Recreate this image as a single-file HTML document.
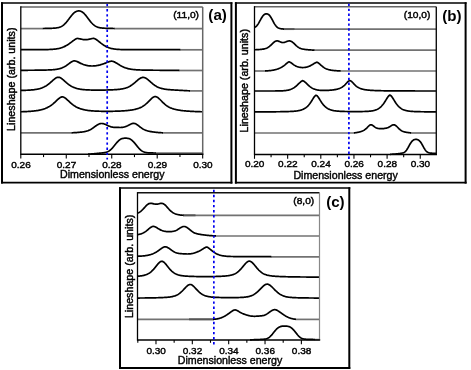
<!DOCTYPE html>
<html><head><meta charset="utf-8"><style>
html,body{margin:0;padding:0;background:#fff;}
svg{display:block;}
text{font-family:'Liberation Sans', Arial, Helvetica, sans-serif;fill:#000;}
</style></head><body>
<svg width="471" height="370" viewBox="0 0 471 370">
<rect width="471" height="370" fill="#fff"/>
<line x1="1" y1="3" x2="232.4" y2="3" stroke="#000" stroke-width="1.5"/>
<line x1="1" y1="182.7" x2="232.4" y2="182.7" stroke="#000" stroke-width="1.8"/>
<line x1="2" y1="2.25" x2="2" y2="183.6" stroke="#000" stroke-width="2"/>
<line x1="231.4" y1="2.25" x2="231.4" y2="183.6" stroke="#000" stroke-width="2"/>
<line x1="20.8" y1="28.60" x2="43.3" y2="28.60" stroke="#727272" stroke-width="1.7"/>
<line x1="114.2" y1="28.60" x2="202.7" y2="28.60" stroke="#727272" stroke-width="1.7"/>
<line x1="179.8" y1="49.80" x2="202.7" y2="49.80" stroke="#727272" stroke-width="1.7"/>
<line x1="178.8" y1="70.50" x2="202.7" y2="70.50" stroke="#727272" stroke-width="1.7"/>
<line x1="189.5" y1="90.90" x2="202.7" y2="90.90" stroke="#727272" stroke-width="1.7"/>
<line x1="20.8" y1="132.90" x2="72.2" y2="132.90" stroke="#727272" stroke-width="1.7"/>
<line x1="162.5" y1="132.90" x2="202.7" y2="132.90" stroke="#727272" stroke-width="1.7"/>
<line x1="155.5" y1="153.10" x2="202.7" y2="153.10" stroke="#727272" stroke-width="1.7"/>
<path d="M42.80 28.50 L43.30 28.49 L43.80 28.49 L44.30 28.48 L44.80 28.47 L45.30 28.46 L45.80 28.45 L46.30 28.44 L46.79 28.43 L47.29 28.42 L47.79 28.41 L48.29 28.39 L48.79 28.38 L49.29 28.36 L49.79 28.35 L50.29 28.33 L50.79 28.32 L51.29 28.30 L51.79 28.28 L52.29 28.25 L52.79 28.23 L53.29 28.20 L53.78 28.17 L54.28 28.14 L54.78 28.10 L55.28 28.05 L55.78 28.00 L56.28 27.94 L56.78 27.86 L57.28 27.78 L57.78 27.69 L58.28 27.58 L58.78 27.45 L59.28 27.31 L59.78 27.14 L60.28 26.95 L60.77 26.73 L61.27 26.49 L61.77 26.22 L62.27 25.92 L62.77 25.58 L63.27 25.22 L63.77 24.82 L64.27 24.38 L64.77 23.92 L65.27 23.41 L65.77 22.88 L66.27 22.32 L66.77 21.73 L67.27 21.12 L67.77 20.49 L68.26 19.84 L68.76 19.18 L69.26 18.52 L69.76 17.85 L70.26 17.19 L70.76 16.54 L71.26 15.90 L71.76 15.29 L72.26 14.70 L72.76 14.14 L73.26 13.62 L73.76 13.14 L74.26 12.70 L74.76 12.30 L75.25 11.96 L75.75 11.67 L76.25 11.42 L76.75 11.23 L77.25 11.09 L77.75 11.00 L78.25 10.95 L78.75 10.94 L79.25 10.96 L79.75 11.02 L80.25 11.12 L80.75 11.27 L81.25 11.47 L81.75 11.72 L82.25 12.02 L82.74 12.37 L83.24 12.78 L83.74 13.23 L84.24 13.72 L84.74 14.25 L85.24 14.81 L85.74 15.41 L86.24 16.03 L86.74 16.67 L87.24 17.32 L87.74 17.98 L88.24 18.65 L88.74 19.31 L89.24 19.97 L89.73 20.61 L90.23 21.24 L90.73 21.85 L91.23 22.43 L91.73 22.99 L92.23 23.51 L92.73 24.01 L93.23 24.47 L93.73 24.90 L94.23 25.29 L94.73 25.65 L95.23 25.98 L95.73 26.27 L96.23 26.54 L96.72 26.78 L97.22 26.99 L97.72 27.17 L98.22 27.34 L98.72 27.48 L99.22 27.60 L99.72 27.71 L100.22 27.80 L100.72 27.88 L101.22 27.95 L101.72 28.01 L102.22 28.06 L102.72 28.10 L103.22 28.14 L103.72 28.18 L104.21 28.21 L104.71 28.23 L105.21 28.26 L105.71 28.28 L106.21 28.30 L106.71 28.32 L107.21 28.34 L107.71 28.35 L108.21 28.37 L108.71 28.38 L109.21 28.39 L109.71 28.41 L110.21 28.42 L110.71 28.43 L111.20 28.44 L111.70 28.45 L112.20 28.46 L112.70 28.47 L113.20 28.48 L113.70 28.49 L114.20 28.49 L114.70 28.50" fill="none" stroke="#000" stroke-width="1.7" stroke-linejoin="round"/>
<path d="M20.80 49.65 L21.30 49.65 L21.80 49.65 L22.30 49.65 L22.80 49.65 L23.30 49.65 L23.80 49.65 L24.30 49.65 L24.80 49.65 L25.30 49.65 L25.80 49.65 L26.30 49.65 L26.80 49.65 L27.30 49.65 L27.80 49.65 L28.30 49.65 L28.80 49.65 L29.30 49.65 L29.80 49.65 L30.30 49.65 L30.80 49.65 L31.30 49.65 L31.80 49.65 L32.30 49.65 L32.80 49.65 L33.30 49.65 L33.80 49.65 L34.30 49.65 L34.80 49.65 L35.30 49.65 L35.80 49.65 L36.30 49.64 L36.80 49.64 L37.30 49.64 L37.80 49.64 L38.30 49.64 L38.80 49.64 L39.30 49.64 L39.80 49.64 L40.30 49.63 L40.80 49.63 L41.30 49.63 L41.80 49.63 L42.30 49.62 L42.80 49.62 L43.30 49.61 L43.80 49.61 L44.30 49.60 L44.80 49.60 L45.30 49.59 L45.80 49.58 L46.30 49.57 L46.80 49.56 L47.30 49.55 L47.80 49.54 L48.30 49.53 L48.80 49.51 L49.30 49.49 L49.80 49.47 L50.30 49.45 L50.80 49.43 L51.30 49.40 L51.80 49.37 L52.30 49.34 L52.80 49.30 L53.30 49.26 L53.80 49.21 L54.30 49.17 L54.80 49.11 L55.30 49.05 L55.80 48.99 L56.30 48.92 L56.80 48.84 L57.30 48.76 L57.80 48.67 L58.30 48.57 L58.80 48.46 L59.30 48.35 L59.80 48.22 L60.30 48.09 L60.80 47.95 L61.30 47.79 L61.80 47.63 L62.30 47.45 L62.80 47.26 L63.30 47.06 L63.80 46.85 L64.30 46.62 L64.80 46.38 L65.30 46.13 L65.80 45.87 L66.30 45.59 L66.80 45.30 L67.30 45.00 L67.80 44.68 L68.30 44.35 L68.80 44.02 L69.30 43.67 L69.80 43.31 L70.30 42.94 L70.80 42.57 L71.30 42.19 L71.80 41.81 L72.30 41.43 L72.80 41.05 L73.30 40.68 L73.80 40.31 L74.30 39.95 L74.80 39.61 L75.30 39.29 L75.80 38.99 L76.30 38.73 L76.80 38.53 L77.30 38.46 L77.80 38.48 L78.30 38.53 L78.80 38.61 L79.30 38.71 L79.80 38.82 L80.30 38.94 L80.80 39.06 L81.30 39.18 L81.80 39.29 L82.30 39.39 L82.80 39.49 L83.30 39.57 L83.80 39.63 L84.30 39.68 L84.80 39.71 L85.30 39.72 L85.80 39.71 L86.30 39.68 L86.80 39.64 L87.30 39.58 L87.80 39.50 L88.30 39.41 L88.80 39.31 L89.30 39.20 L89.80 39.08 L90.30 38.96 L90.80 38.84 L91.30 38.73 L91.80 38.62 L92.30 38.53 L92.80 38.47 L93.30 38.43 L93.80 38.44 L94.30 38.52 L94.80 38.71 L95.30 38.97 L95.80 39.26 L96.30 39.58 L96.80 39.93 L97.30 40.30 L97.80 40.68 L98.30 41.07 L98.80 41.46 L99.30 41.86 L99.80 42.26 L100.30 42.66 L100.80 43.05 L101.30 43.44 L101.80 43.81 L102.30 44.18 L102.80 44.54 L103.30 44.88 L103.80 45.21 L104.30 45.53 L104.80 45.83 L105.30 46.12 L105.80 46.39 L106.30 46.65 L106.80 46.89 L107.30 47.12 L107.80 47.33 L108.30 47.53 L108.80 47.72 L109.30 47.90 L109.80 48.06 L110.30 48.21 L110.80 48.34 L111.30 48.47 L111.80 48.59 L112.30 48.69 L112.80 48.79 L113.30 48.88 L113.80 48.96 L114.30 49.03 L114.80 49.10 L115.30 49.16 L115.80 49.22 L116.30 49.26 L116.80 49.31 L117.30 49.35 L117.80 49.38 L118.30 49.41 L118.80 49.44 L119.30 49.47 L119.80 49.49 L120.30 49.51 L120.80 49.53 L121.30 49.54 L121.80 49.56 L122.30 49.57 L122.80 49.58 L123.30 49.59 L123.80 49.60 L124.30 49.60 L124.80 49.61 L125.30 49.62 L125.80 49.62 L126.30 49.62 L126.80 49.63 L127.30 49.63 L127.80 49.63 L128.30 49.64 L128.80 49.64 L129.30 49.64 L129.80 49.64 L130.30 49.64 L130.80 49.64 L131.30 49.64 L131.80 49.65 L132.30 49.65 L132.80 49.65 L133.30 49.65 L133.80 49.65 L134.30 49.65 L134.80 49.65 L135.30 49.65 L135.80 49.65 L136.30 49.65 L136.80 49.65 L137.30 49.65 L137.80 49.65 L138.30 49.65 L138.80 49.65 L139.30 49.65 L139.80 49.65 L140.30 49.65 L140.80 49.65 L141.30 49.65 L141.80 49.65 L142.30 49.65 L142.80 49.65 L143.30 49.65 L143.80 49.65 L144.30 49.65 L144.80 49.65 L145.30 49.65 L145.80 49.65 L146.30 49.65 L146.80 49.65 L147.30 49.65 L147.80 49.65 L148.30 49.65 L148.80 49.65 L149.30 49.65 L149.80 49.65 L150.30 49.65 L150.80 49.65 L151.30 49.65 L151.80 49.65 L152.30 49.65 L152.80 49.65 L153.30 49.65 L153.80 49.65 L154.30 49.65 L154.80 49.65 L155.30 49.65 L155.80 49.65 L156.30 49.65 L156.80 49.65 L157.30 49.65 L157.80 49.65 L158.30 49.65 L158.80 49.65 L159.30 49.65 L159.80 49.65 L160.30 49.65 L160.80 49.65 L161.30 49.65 L161.80 49.65 L162.30 49.65 L162.80 49.65 L163.30 49.65 L163.80 49.65 L164.30 49.65 L164.80 49.65 L165.30 49.65 L165.80 49.65 L166.30 49.65 L166.80 49.65 L167.30 49.65 L167.80 49.65 L168.30 49.65 L168.80 49.65 L169.30 49.66 L169.80 49.66 L170.30 49.66 L170.80 49.66 L171.30 49.66 L171.80 49.67 L172.30 49.67 L172.80 49.67 L173.30 49.67 L173.80 49.68 L174.30 49.68 L174.80 49.68 L175.30 49.69 L175.80 49.69 L176.30 49.69 L176.80 49.69 L177.30 49.69 L177.80 49.70 L178.30 49.70 L178.80 49.70 L179.30 49.70 L179.80 49.70 L180.30 49.70" fill="none" stroke="#000" stroke-width="1.7" stroke-linejoin="round"/>
<path d="M20.80 70.31 L21.30 70.31 L21.80 70.31 L22.30 70.31 L22.80 70.31 L23.30 70.30 L23.80 70.30 L24.30 70.30 L24.80 70.29 L25.30 70.29 L25.80 70.29 L26.30 70.29 L26.80 70.28 L27.30 70.28 L27.80 70.28 L28.30 70.27 L28.80 70.27 L29.30 70.27 L29.80 70.26 L30.30 70.26 L30.80 70.26 L31.30 70.25 L31.80 70.25 L32.30 70.24 L32.80 70.24 L33.30 70.23 L33.80 70.23 L34.30 70.23 L34.80 70.22 L35.30 70.22 L35.80 70.21 L36.30 70.20 L36.80 70.20 L37.30 70.19 L37.80 70.19 L38.30 70.18 L38.80 70.17 L39.30 70.17 L39.80 70.16 L40.30 70.15 L40.80 70.15 L41.30 70.14 L41.80 70.13 L42.30 70.12 L42.80 70.11 L43.30 70.10 L43.80 70.09 L44.30 70.08 L44.80 70.07 L45.30 70.06 L45.80 70.04 L46.30 70.03 L46.80 70.02 L47.30 70.00 L47.80 69.98 L48.30 69.97 L48.80 69.95 L49.30 69.93 L49.80 69.91 L50.30 69.88 L50.80 69.86 L51.30 69.83 L51.80 69.80 L52.30 69.77 L52.80 69.73 L53.30 69.69 L53.80 69.65 L54.30 69.60 L54.80 69.55 L55.30 69.49 L55.80 69.43 L56.30 69.36 L56.80 69.28 L57.30 69.19 L57.80 69.10 L58.30 69.00 L58.80 68.89 L59.30 68.77 L59.80 68.63 L60.30 68.49 L60.80 68.33 L61.30 68.16 L61.80 67.98 L62.30 67.78 L62.80 67.56 L63.30 67.33 L63.80 67.09 L64.30 66.83 L64.80 66.55 L65.30 66.25 L65.80 65.94 L66.30 65.61 L66.80 65.27 L67.30 64.92 L67.80 64.56 L68.30 64.18 L68.80 63.81 L69.30 63.43 L69.80 63.05 L70.30 62.68 L70.80 62.33 L71.30 62.00 L71.80 61.70 L72.30 61.44 L72.80 61.21 L73.30 61.04 L73.80 60.93 L74.30 60.89 L74.80 60.90 L75.30 60.97 L75.80 61.09 L76.30 61.24 L76.80 61.43 L77.30 61.64 L77.80 61.87 L78.30 62.12 L78.80 62.37 L79.30 62.62 L79.80 62.88 L80.30 63.13 L80.80 63.37 L81.30 63.61 L81.80 63.83 L82.30 64.04 L82.80 64.25 L83.30 64.44 L83.80 64.62 L84.30 64.78 L84.80 64.94 L85.30 65.08 L85.80 65.21 L86.30 65.34 L86.80 65.45 L87.30 65.55 L87.80 65.64 L88.30 65.72 L88.80 65.79 L89.30 65.85 L89.80 65.90 L90.30 65.94 L90.80 65.97 L91.30 65.99 L91.80 66.00 L92.30 66.00 L92.80 65.99 L93.30 65.96 L93.80 65.93 L94.30 65.89 L94.80 65.84 L95.30 65.79 L95.80 65.72 L96.30 65.65 L96.80 65.57 L97.30 65.49 L97.80 65.40 L98.30 65.30 L98.80 65.19 L99.30 65.08 L99.80 64.96 L100.30 64.83 L100.80 64.69 L101.30 64.55 L101.80 64.40 L102.30 64.24 L102.80 64.07 L103.30 63.90 L103.80 63.72 L104.30 63.53 L104.80 63.34 L105.30 63.14 L105.80 62.93 L106.30 62.73 L106.80 62.52 L107.30 62.32 L107.80 62.12 L108.30 61.93 L108.80 61.75 L109.30 61.59 L109.80 61.45 L110.30 61.33 L110.80 61.25 L111.30 61.20 L111.80 61.19 L112.30 61.23 L112.80 61.33 L113.30 61.48 L113.80 61.66 L114.30 61.87 L114.80 62.11 L115.30 62.38 L115.80 62.66 L116.30 62.96 L116.80 63.27 L117.30 63.58 L117.80 63.90 L118.30 64.22 L118.80 64.53 L119.30 64.84 L119.80 65.14 L120.30 65.44 L120.80 65.72 L121.30 66.00 L121.80 66.26 L122.30 66.52 L122.80 66.76 L123.30 66.99 L123.80 67.21 L124.30 67.42 L124.80 67.61 L125.30 67.80 L125.80 67.97 L126.30 68.13 L126.80 68.29 L127.30 68.43 L127.80 68.56 L128.30 68.69 L128.80 68.80 L129.30 68.91 L129.80 69.01 L130.30 69.10 L130.80 69.19 L131.30 69.27 L131.80 69.34 L132.30 69.41 L132.80 69.47 L133.30 69.53 L133.80 69.58 L134.30 69.63 L134.80 69.68 L135.30 69.72 L135.80 69.75 L136.30 69.79 L136.80 69.82 L137.30 69.85 L137.80 69.88 L138.30 69.90 L138.80 69.93 L139.30 69.95 L139.80 69.97 L140.30 69.99 L140.80 70.00 L141.30 70.02 L141.80 70.04 L142.30 70.05 L142.80 70.06 L143.30 70.08 L143.80 70.09 L144.30 70.10 L144.80 70.11 L145.30 70.12 L145.80 70.13 L146.30 70.14 L146.80 70.14 L147.30 70.15 L147.80 70.16 L148.30 70.17 L148.80 70.17 L149.30 70.18 L149.80 70.19 L150.30 70.19 L150.80 70.20 L151.30 70.20 L151.80 70.21 L152.30 70.22 L152.80 70.22 L153.30 70.23 L153.80 70.23 L154.30 70.23 L154.80 70.24 L155.30 70.24 L155.80 70.25 L156.30 70.25 L156.80 70.26 L157.30 70.26 L157.80 70.26 L158.30 70.27 L158.80 70.27 L159.30 70.27 L159.80 70.28 L160.30 70.28 L160.80 70.28 L161.30 70.29 L161.80 70.29 L162.30 70.29 L162.80 70.29 L163.30 70.30 L163.80 70.30 L164.30 70.30 L164.80 70.30 L165.30 70.31 L165.80 70.31 L166.30 70.31 L166.80 70.31 L167.30 70.32 L167.80 70.32 L168.30 70.33 L168.80 70.33 L169.30 70.33 L169.80 70.34 L170.30 70.34 L170.80 70.34 L171.30 70.35 L171.80 70.35 L172.30 70.36 L172.80 70.36 L173.30 70.37 L173.80 70.37 L174.30 70.37 L174.80 70.38 L175.30 70.38 L175.80 70.38 L176.30 70.39 L176.80 70.39 L177.30 70.39 L177.80 70.39 L178.30 70.40 L178.80 70.40 L179.30 70.40" fill="none" stroke="#000" stroke-width="1.7" stroke-linejoin="round"/>
<path d="M20.80 90.45 L21.30 90.44 L21.80 90.42 L22.30 90.41 L22.80 90.40 L23.30 90.38 L23.80 90.36 L24.30 90.35 L24.80 90.33 L25.31 90.31 L25.81 90.29 L26.31 90.27 L26.81 90.25 L27.31 90.23 L27.81 90.20 L28.31 90.17 L28.81 90.15 L29.31 90.12 L29.81 90.08 L30.31 90.05 L30.81 90.01 L31.31 89.97 L31.81 89.93 L32.31 89.89 L32.81 89.84 L33.31 89.79 L33.82 89.73 L34.32 89.67 L34.82 89.60 L35.32 89.53 L35.82 89.45 L36.32 89.37 L36.82 89.28 L37.32 89.19 L37.82 89.08 L38.32 88.97 L38.82 88.85 L39.32 88.72 L39.82 88.59 L40.32 88.44 L40.82 88.28 L41.32 88.11 L41.82 87.93 L42.33 87.73 L42.83 87.52 L43.33 87.30 L43.83 87.07 L44.33 86.82 L44.83 86.55 L45.33 86.27 L45.83 85.98 L46.33 85.67 L46.83 85.34 L47.33 85.00 L47.83 84.64 L48.33 84.27 L48.83 83.88 L49.33 83.48 L49.83 83.06 L50.33 82.64 L50.84 82.20 L51.34 81.76 L51.84 81.31 L52.34 80.87 L52.84 80.42 L53.34 79.98 L53.84 79.55 L54.34 79.14 L54.84 78.75 L55.34 78.40 L55.84 78.07 L56.34 77.80 L56.84 77.57 L57.34 77.39 L57.84 77.28 L58.34 77.24 L58.84 77.28 L59.35 77.39 L59.85 77.56 L60.35 77.79 L60.85 78.07 L61.35 78.39 L61.85 78.75 L62.35 79.13 L62.85 79.54 L63.35 79.97 L63.85 80.40 L64.35 80.85 L64.85 81.29 L65.35 81.74 L65.85 82.17 L66.35 82.61 L66.85 83.03 L67.36 83.44 L67.86 83.84 L68.36 84.22 L68.86 84.59 L69.36 84.94 L69.86 85.28 L70.36 85.60 L70.86 85.91 L71.36 86.20 L71.86 86.48 L72.36 86.74 L72.86 86.98 L73.36 87.21 L73.86 87.43 L74.36 87.63 L74.86 87.82 L75.36 88.00 L75.87 88.17 L76.37 88.32 L76.87 88.46 L77.37 88.60 L77.87 88.72 L78.37 88.84 L78.87 88.94 L79.37 89.04 L79.87 89.13 L80.37 89.22 L80.87 89.30 L81.37 89.37 L81.87 89.43 L82.37 89.49 L82.87 89.55 L83.37 89.60 L83.87 89.65 L84.38 89.69 L84.88 89.73 L85.38 89.77 L85.88 89.80 L86.38 89.83 L86.88 89.86 L87.38 89.89 L87.88 89.91 L88.38 89.93 L88.88 89.95 L89.38 89.97 L89.88 89.99 L90.38 90.00 L90.88 90.02 L91.38 90.03 L91.88 90.04 L92.38 90.05 L92.89 90.06 L93.39 90.07 L93.89 90.08 L94.39 90.08 L94.89 90.09 L95.39 90.09 L95.89 90.10 L96.39 90.10 L96.89 90.10 L97.39 90.10 L97.89 90.10 L98.39 90.10 L98.89 90.10 L99.39 90.10 L99.89 90.10 L100.39 90.10 L100.89 90.09 L101.40 90.09 L101.90 90.08 L102.40 90.08 L102.90 90.07 L103.40 90.07 L103.90 90.06 L104.40 90.05 L104.90 90.04 L105.40 90.03 L105.90 90.02 L106.40 90.01 L106.90 90.00 L107.40 89.99 L107.90 89.97 L108.40 89.96 L108.90 89.94 L109.40 89.93 L109.91 89.91 L110.41 89.89 L110.91 89.87 L111.41 89.85 L111.91 89.83 L112.41 89.81 L112.91 89.78 L113.41 89.76 L113.91 89.73 L114.41 89.70 L114.91 89.67 L115.41 89.64 L115.91 89.60 L116.41 89.56 L116.91 89.53 L117.41 89.48 L117.91 89.44 L118.42 89.39 L118.92 89.34 L119.42 89.29 L119.92 89.23 L120.42 89.16 L120.92 89.09 L121.42 89.02 L121.92 88.94 L122.42 88.85 L122.92 88.75 L123.42 88.65 L123.92 88.54 L124.42 88.42 L124.92 88.28 L125.42 88.14 L125.92 87.98 L126.42 87.81 L126.93 87.63 L127.43 87.43 L127.93 87.22 L128.43 86.99 L128.93 86.75 L129.43 86.48 L129.93 86.20 L130.43 85.91 L130.93 85.59 L131.43 85.26 L131.93 84.92 L132.43 84.55 L132.93 84.17 L133.43 83.78 L133.93 83.37 L134.43 82.96 L134.93 82.53 L135.44 82.10 L135.94 81.66 L136.44 81.22 L136.94 80.78 L137.44 80.34 L137.94 79.92 L138.44 79.51 L138.94 79.13 L139.44 78.77 L139.94 78.44 L140.44 78.14 L140.94 77.90 L141.44 77.69 L141.94 77.54 L142.44 77.45 L142.94 77.40 L143.44 77.42 L143.95 77.48 L144.45 77.60 L144.95 77.77 L145.45 78.00 L145.95 78.27 L146.45 78.58 L146.95 78.92 L147.45 79.29 L147.95 79.69 L148.45 80.11 L148.95 80.54 L149.45 80.98 L149.95 81.42 L150.45 81.86 L150.95 82.30 L151.45 82.73 L151.96 83.16 L152.46 83.58 L152.96 83.98 L153.46 84.37 L153.96 84.74 L154.46 85.10 L154.96 85.45 L155.46 85.77 L155.96 86.08 L156.46 86.38 L156.96 86.65 L157.46 86.91 L157.96 87.15 L158.46 87.38 L158.96 87.59 L159.46 87.78 L159.96 87.96 L160.47 88.13 L160.97 88.28 L161.47 88.42 L161.97 88.56 L162.47 88.68 L162.97 88.79 L163.47 88.89 L163.97 88.99 L164.47 89.08 L164.97 89.16 L165.47 89.23 L165.97 89.30 L166.47 89.37 L166.97 89.43 L167.47 89.49 L167.97 89.54 L168.47 89.59 L168.98 89.64 L169.48 89.68 L169.98 89.72 L170.48 89.76 L170.98 89.80 L171.48 89.84 L171.98 89.87 L172.48 89.90 L172.98 89.93 L173.48 89.96 L173.98 89.99 L174.48 90.02 L174.98 90.05 L175.48 90.07 L175.98 90.09 L176.48 90.12 L176.98 90.14 L177.49 90.17 L177.99 90.20 L178.49 90.23 L178.99 90.25 L179.49 90.28 L179.99 90.31 L180.49 90.34 L180.99 90.37 L181.49 90.40 L181.99 90.44 L182.49 90.47 L182.99 90.50 L183.49 90.52 L183.99 90.55 L184.49 90.58 L184.99 90.61 L185.49 90.64 L186.00 90.66 L186.50 90.68 L187.00 90.71 L187.50 90.73 L188.00 90.75 L188.50 90.76 L189.00 90.78 L189.50 90.79 L190.00 90.80" fill="none" stroke="#000" stroke-width="1.7" stroke-linejoin="round"/>
<path d="M20.80 111.78 L21.30 111.76 L21.80 111.75 L22.30 111.73 L22.80 111.71 L23.30 111.69 L23.80 111.67 L24.30 111.65 L24.80 111.63 L25.30 111.61 L25.80 111.59 L26.30 111.56 L26.80 111.54 L27.30 111.51 L27.80 111.48 L28.30 111.45 L28.80 111.42 L29.30 111.39 L29.80 111.36 L30.29 111.32 L30.79 111.28 L31.29 111.24 L31.79 111.20 L32.29 111.16 L32.79 111.11 L33.29 111.06 L33.79 111.01 L34.29 110.96 L34.79 110.90 L35.29 110.84 L35.79 110.77 L36.29 110.70 L36.79 110.63 L37.29 110.56 L37.79 110.47 L38.29 110.39 L38.79 110.30 L39.29 110.20 L39.79 110.10 L40.29 109.99 L40.79 109.87 L41.29 109.75 L41.79 109.62 L42.29 109.49 L42.79 109.34 L43.29 109.19 L43.79 109.03 L44.29 108.86 L44.79 108.68 L45.29 108.49 L45.79 108.28 L46.29 108.07 L46.79 107.85 L47.29 107.61 L47.79 107.36 L48.28 107.09 L48.78 106.81 L49.28 106.52 L49.78 106.21 L50.28 105.89 L50.78 105.55 L51.28 105.20 L51.78 104.83 L52.28 104.44 L52.78 104.04 L53.28 103.62 L53.78 103.19 L54.28 102.75 L54.78 102.29 L55.28 101.83 L55.78 101.35 L56.28 100.88 L56.78 100.40 L57.28 99.93 L57.78 99.47 L58.28 99.02 L58.78 98.60 L59.28 98.21 L59.78 97.85 L60.28 97.53 L60.78 97.27 L61.28 97.06 L61.78 96.92 L62.28 96.85 L62.78 96.89 L63.28 97.01 L63.78 97.20 L64.28 97.45 L64.78 97.75 L65.28 98.10 L65.78 98.48 L66.27 98.90 L66.77 99.34 L67.27 99.79 L67.77 100.26 L68.27 100.73 L68.77 101.20 L69.27 101.67 L69.77 102.13 L70.27 102.59 L70.77 103.03 L71.27 103.46 L71.77 103.88 L72.27 104.28 L72.77 104.67 L73.27 105.04 L73.77 105.39 L74.27 105.73 L74.77 106.05 L75.27 106.36 L75.77 106.65 L76.27 106.93 L76.77 107.19 L77.27 107.44 L77.77 107.68 L78.27 107.90 L78.77 108.11 L79.27 108.31 L79.77 108.50 L80.27 108.68 L80.77 108.85 L81.27 109.01 L81.77 109.16 L82.27 109.30 L82.77 109.43 L83.27 109.56 L83.77 109.68 L84.27 109.79 L84.76 109.89 L85.26 109.99 L85.76 110.08 L86.26 110.17 L86.76 110.25 L87.26 110.33 L87.76 110.40 L88.26 110.47 L88.76 110.54 L89.26 110.59 L89.76 110.65 L90.26 110.70 L90.76 110.75 L91.26 110.80 L91.76 110.84 L92.26 110.88 L92.76 110.92 L93.26 110.96 L93.76 110.99 L94.26 111.02 L94.76 111.05 L95.26 111.08 L95.76 111.10 L96.26 111.13 L96.76 111.15 L97.26 111.17 L97.76 111.19 L98.26 111.21 L98.76 111.22 L99.26 111.24 L99.76 111.25 L100.26 111.26 L100.76 111.27 L101.26 111.28 L101.76 111.29 L102.26 111.30 L102.75 111.31 L103.25 111.31 L103.75 111.32 L104.25 111.32 L104.75 111.33 L105.25 111.33 L105.75 111.33 L106.25 111.33 L106.75 111.34 L107.25 111.33 L107.75 111.33 L108.25 111.33 L108.75 111.33 L109.25 111.33 L109.75 111.32 L110.25 111.32 L110.75 111.31 L111.25 111.30 L111.75 111.30 L112.25 111.29 L112.75 111.28 L113.25 111.27 L113.75 111.26 L114.25 111.25 L114.75 111.24 L115.25 111.22 L115.75 111.21 L116.25 111.20 L116.75 111.18 L117.25 111.16 L117.75 111.15 L118.25 111.13 L118.75 111.11 L119.25 111.09 L119.75 111.06 L120.25 111.04 L120.75 111.02 L121.24 110.99 L121.74 110.96 L122.24 110.93 L122.74 110.90 L123.24 110.87 L123.74 110.84 L124.24 110.80 L124.74 110.76 L125.24 110.73 L125.74 110.68 L126.24 110.64 L126.74 110.60 L127.24 110.55 L127.74 110.50 L128.24 110.44 L128.74 110.39 L129.24 110.33 L129.74 110.27 L130.24 110.20 L130.74 110.13 L131.24 110.06 L131.74 109.98 L132.24 109.90 L132.74 109.82 L133.24 109.72 L133.74 109.63 L134.24 109.52 L134.74 109.42 L135.24 109.30 L135.74 109.18 L136.24 109.05 L136.74 108.91 L137.24 108.76 L137.74 108.60 L138.24 108.43 L138.74 108.25 L139.23 108.06 L139.73 107.86 L140.23 107.64 L140.73 107.41 L141.23 107.16 L141.73 106.90 L142.23 106.62 L142.73 106.32 L143.23 106.01 L143.73 105.68 L144.23 105.32 L144.73 104.95 L145.23 104.56 L145.73 104.15 L146.23 103.72 L146.73 103.27 L147.23 102.80 L147.73 102.32 L148.23 101.83 L148.73 101.32 L149.23 100.81 L149.73 100.29 L150.23 99.79 L150.73 99.29 L151.23 98.81 L151.73 98.35 L152.23 97.93 L152.73 97.56 L153.23 97.24 L153.73 96.98 L154.23 96.78 L154.73 96.66 L155.23 96.62 L155.73 96.66 L156.23 96.77 L156.73 96.95 L157.22 97.20 L157.72 97.52 L158.22 97.89 L158.72 98.30 L159.22 98.76 L159.72 99.24 L160.22 99.74 L160.72 100.25 L161.22 100.76 L161.72 101.28 L162.22 101.79 L162.72 102.29 L163.22 102.77 L163.72 103.25 L164.22 103.70 L164.72 104.14 L165.22 104.55 L165.72 104.95 L166.22 105.33 L166.72 105.69 L167.22 106.03 L167.72 106.35 L168.22 106.65 L168.72 106.93 L169.22 107.20 L169.72 107.45 L170.22 107.69 L170.72 107.91 L171.22 108.12 L171.72 108.32 L172.22 108.50 L172.72 108.68 L173.22 108.84 L173.72 108.99 L174.22 109.14 L174.72 109.27 L175.22 109.40 L175.71 109.52 L176.21 109.63 L176.71 109.74 L177.21 109.84 L177.71 109.94 L178.21 110.03 L178.71 110.11 L179.21 110.19 L179.71 110.27 L180.21 110.35 L180.71 110.42 L181.21 110.48 L181.71 110.55 L182.21 110.61 L182.71 110.66 L183.21 110.72 L183.71 110.77 L184.21 110.82 L184.71 110.87 L185.21 110.92 L185.71 110.96 L186.21 111.00 L186.71 111.04 L187.21 111.08 L187.71 111.12 L188.21 111.16 L188.71 111.19 L189.21 111.22 L189.71 111.26 L190.21 111.29 L190.71 111.32 L191.21 111.34 L191.71 111.37 L192.21 111.40 L192.71 111.42 L193.21 111.45 L193.70 111.47 L194.20 111.49 L194.70 111.52 L195.20 111.54 L195.70 111.56 L196.20 111.58 L196.70 111.60 L197.20 111.62 L197.70 111.63 L198.20 111.65 L198.70 111.67 L199.20 111.69 L199.70 111.70 L200.20 111.72 L200.70 111.73 L201.20 111.75 L201.70 111.76 L202.20 111.77 L202.70 111.79" fill="none" stroke="#000" stroke-width="1.7" stroke-linejoin="round"/>
<path d="M71.70 132.80 L72.20 132.78 L72.70 132.76 L73.20 132.74 L73.70 132.72 L74.19 132.69 L74.69 132.66 L75.19 132.63 L75.69 132.60 L76.19 132.56 L76.69 132.53 L77.19 132.49 L77.69 132.45 L78.19 132.41 L78.68 132.36 L79.18 132.31 L79.68 132.27 L80.18 132.21 L80.68 132.16 L81.18 132.10 L81.68 132.04 L82.18 131.98 L82.68 131.91 L83.17 131.83 L83.67 131.75 L84.17 131.67 L84.67 131.57 L85.17 131.47 L85.67 131.36 L86.17 131.24 L86.67 131.10 L87.17 130.95 L87.67 130.79 L88.16 130.61 L88.66 130.41 L89.16 130.20 L89.66 129.96 L90.16 129.71 L90.66 129.44 L91.16 129.16 L91.66 128.85 L92.16 128.54 L92.65 128.21 L93.15 127.86 L93.65 127.51 L94.15 127.15 L94.65 126.79 L95.15 126.42 L95.65 126.06 L96.15 125.71 L96.65 125.36 L97.14 125.03 L97.64 124.73 L98.14 124.44 L98.64 124.19 L99.14 123.97 L99.64 123.80 L100.14 123.66 L100.64 123.56 L101.14 123.50 L101.63 123.48 L102.13 123.50 L102.63 123.56 L103.13 123.65 L103.63 123.78 L104.13 123.94 L104.63 124.12 L105.13 124.33 L105.63 124.55 L106.12 124.77 L106.62 125.01 L107.12 125.24 L107.62 125.47 L108.12 125.70 L108.62 125.92 L109.12 126.13 L109.62 126.32 L110.12 126.50 L110.61 126.67 L111.11 126.82 L111.61 126.95 L112.11 127.06 L112.61 127.15 L113.11 127.23 L113.61 127.29 L114.11 127.33 L114.61 127.36 L115.10 127.38 L115.60 127.38 L116.10 127.37 L116.60 127.36 L117.10 127.34 L117.60 127.37 L118.10 127.41 L118.60 127.44 L119.10 127.47 L119.60 127.49 L120.09 127.49 L120.59 127.49 L121.09 127.47 L121.59 127.44 L122.09 127.39 L122.59 127.33 L123.09 127.25 L123.59 127.15 L124.09 127.03 L124.58 126.90 L125.08 126.75 L125.58 126.58 L126.08 126.39 L126.58 126.19 L127.08 125.96 L127.58 125.73 L128.08 125.48 L128.58 125.22 L129.07 124.96 L129.57 124.69 L130.07 124.43 L130.57 124.18 L131.07 123.95 L131.57 123.75 L132.07 123.58 L132.57 123.45 L133.07 123.38 L133.56 123.35 L134.06 123.39 L134.56 123.48 L135.06 123.63 L135.56 123.83 L136.06 124.08 L136.56 124.37 L137.06 124.69 L137.56 125.05 L138.05 125.42 L138.55 125.80 L139.05 126.19 L139.55 126.57 L140.05 126.95 L140.55 127.32 L141.05 127.68 L141.55 128.03 L142.05 128.36 L142.54 128.67 L143.04 128.97 L143.54 129.25 L144.04 129.51 L144.54 129.75 L145.04 129.97 L145.54 130.18 L146.04 130.38 L146.54 130.55 L147.03 130.72 L147.53 130.87 L148.03 131.00 L148.53 131.13 L149.03 131.24 L149.53 131.35 L150.03 131.45 L150.53 131.54 L151.03 131.63 L151.53 131.71 L152.02 131.79 L152.52 131.87 L153.02 131.94 L153.52 132.00 L154.02 132.07 L154.52 132.13 L155.02 132.19 L155.52 132.24 L156.02 132.30 L156.51 132.35 L157.01 132.40 L157.51 132.44 L158.01 132.49 L158.51 132.53 L159.01 132.57 L159.51 132.61 L160.01 132.64 L160.51 132.68 L161.00 132.71 L161.50 132.73 L162.00 132.76 L162.50 132.78 L163.00 132.80" fill="none" stroke="#000" stroke-width="1.7" stroke-linejoin="round"/>
<path d="M88.00 154.10 L88.50 154.10 L89.00 154.09 L89.50 154.07 L90.00 154.05 L90.50 154.03 L91.00 154.00 L91.50 153.97 L92.00 153.94 L92.50 153.90 L93.00 153.86 L93.50 153.81 L94.00 153.77 L94.50 153.72 L95.00 153.67 L95.50 153.62 L96.00 153.57 L96.50 153.51 L97.00 153.46 L97.50 153.41 L98.00 153.35 L98.50 153.30 L99.00 153.25 L99.50 153.19 L100.00 153.14 L100.50 153.09 L101.00 153.03 L101.50 152.98 L102.00 152.92 L102.50 152.86 L103.00 152.80 L103.50 152.74 L104.00 152.67 L104.50 152.59 L105.00 152.49 L105.50 152.39 L106.00 152.27 L106.50 152.13 L107.00 151.97 L107.50 151.77 L108.00 151.55 L108.50 151.28 L109.00 150.99 L109.50 150.65 L110.00 150.28 L110.50 149.86 L111.00 149.41 L111.50 148.92 L112.00 148.40 L112.50 147.85 L113.00 147.27 L113.50 146.67 L114.00 146.05 L114.50 145.43 L115.00 144.80 L115.50 144.17 L116.00 143.56 L116.50 142.96 L117.00 142.38 L117.50 141.83 L118.00 141.31 L118.50 140.83 L119.00 140.39 L119.50 139.99 L120.00 139.63 L120.50 139.32 L121.00 139.05 L121.50 138.82 L122.00 138.64 L122.50 138.49 L123.00 138.37 L123.50 138.29 L124.00 138.24 L124.50 138.21 L125.00 138.19 L125.50 138.19 L126.00 138.19 L126.50 138.20 L127.00 138.23 L127.50 138.29 L128.00 138.37 L128.50 138.48 L129.00 138.62 L129.50 138.81 L130.00 139.03 L130.50 139.30 L131.00 139.61 L131.50 139.96 L132.00 140.36 L132.50 140.80 L133.00 141.27 L133.50 141.79 L134.00 142.34 L134.50 142.91 L135.00 143.51 L135.50 144.12 L136.00 144.75 L136.50 145.38 L137.00 146.00 L137.50 146.62 L138.00 147.22 L138.50 147.80 L139.00 148.36 L139.50 148.88 L140.00 149.38 L140.50 149.83 L141.00 150.25 L141.50 150.64 L142.00 150.98 L142.50 151.28 L143.00 151.55 L143.50 151.79 L144.00 151.99 L144.50 152.16 L145.00 152.31 L145.50 152.43 L146.00 152.53 L146.50 152.62 L147.00 152.69 L147.50 152.75 L148.00 152.79 L148.50 152.83 L149.00 152.86 L149.50 152.88 L150.00 152.90 L150.50 152.92 L151.00 152.94 L151.50 152.95 L152.00 152.96 L152.50 152.97 L153.00 152.97 L153.50 152.98 L154.00 152.99 L154.50 152.99 L155.00 152.99 L155.50 153.00 L156.00 153.00" fill="none" stroke="#000" stroke-width="1.7" stroke-linejoin="round"/>
<line x1="20.8" y1="7" x2="202.7" y2="7" stroke="#666" stroke-width="1.5"/>
<line x1="202.7" y1="7" x2="202.7" y2="154.3" stroke="#666" stroke-width="1.5"/>
<line x1="20.8" y1="6.3" x2="20.8" y2="155.0" stroke="#000" stroke-width="1.3"/>
<line x1="20.8" y1="154.3" x2="203.39999999999998" y2="154.3" stroke="#000" stroke-width="1.5"/>
<line x1="20.80" y1="154.3" x2="20.80" y2="158.60000000000002" stroke="#000" stroke-width="1.1"/>
<text transform="translate(21.00 167.70) scale(1.1 1)" text-anchor="middle" font-size="9.1" stroke="#000" stroke-width="0.4">0.26</text>
<line x1="43.54" y1="154.3" x2="43.54" y2="157.10000000000002" stroke="#000" stroke-width="1.1"/>
<line x1="66.27" y1="154.3" x2="66.27" y2="158.60000000000002" stroke="#000" stroke-width="1.1"/>
<text transform="translate(66.47 167.70) scale(1.1 1)" text-anchor="middle" font-size="9.1" stroke="#000" stroke-width="0.4">0.27</text>
<line x1="89.01" y1="154.3" x2="89.01" y2="157.10000000000002" stroke="#000" stroke-width="1.1"/>
<line x1="111.74" y1="154.3" x2="111.74" y2="158.60000000000002" stroke="#000" stroke-width="1.1"/>
<text transform="translate(111.94 167.70) scale(1.1 1)" text-anchor="middle" font-size="9.1" stroke="#000" stroke-width="0.4">0.28</text>
<line x1="134.48" y1="154.3" x2="134.48" y2="157.10000000000002" stroke="#000" stroke-width="1.1"/>
<line x1="157.21" y1="154.3" x2="157.21" y2="158.60000000000002" stroke="#000" stroke-width="1.1"/>
<text transform="translate(157.41 167.70) scale(1.1 1)" text-anchor="middle" font-size="9.1" stroke="#000" stroke-width="0.4">0.29</text>
<line x1="179.95" y1="154.3" x2="179.95" y2="157.10000000000002" stroke="#000" stroke-width="1.1"/>
<line x1="202.68" y1="154.3" x2="202.68" y2="158.60000000000002" stroke="#000" stroke-width="1.1"/>
<text transform="translate(202.88 167.70) scale(1.1 1)" text-anchor="middle" font-size="9.1" stroke="#000" stroke-width="0.4">0.30</text>
<line x1="107.2" y1="3.9" x2="107.2" y2="159.6" stroke="#0000f0" stroke-width="1.7" stroke-dasharray="2.4 2.73"/>
<text transform="translate(112.30 178.30) scale(1.013 1)" text-anchor="middle" font-size="10.5" stroke="#000" stroke-width="0.4">Dimensionless energy</text>
<text transform="translate(14.80 79.20) rotate(-90) scale(1 1.0)" text-anchor="middle" font-size="10.7" stroke="#000" stroke-width="0.45">Lineshape (arb. units)</text>
<text transform="translate(199.00 17.60) scale(1.17 1)" text-anchor="end" font-size="8.7" stroke="#000" stroke-width="0.4">(11,0)</text>
<text transform="translate(217.60 19.80) scale(1.08 1)" text-anchor="middle" font-size="14" font-weight="bold">(a)</text>
<line x1="234.9" y1="3" x2="466.6" y2="3" stroke="#000" stroke-width="1.5"/>
<line x1="234.9" y1="182.7" x2="466.6" y2="182.7" stroke="#000" stroke-width="1.8"/>
<line x1="235.9" y1="2.25" x2="235.9" y2="183.6" stroke="#000" stroke-width="2"/>
<line x1="465.6" y1="2.25" x2="465.6" y2="183.6" stroke="#000" stroke-width="2"/>
<line x1="283.5" y1="29.20" x2="436.3" y2="29.20" stroke="#727272" stroke-width="1.7"/>
<line x1="283.5" y1="29.10" x2="294.5" y2="29.10" stroke="#555" stroke-width="1.9"/>
<line x1="313.9" y1="50.20" x2="436.3" y2="50.20" stroke="#727272" stroke-width="1.7"/>
<line x1="254.5" y1="71.00" x2="265.5" y2="71.00" stroke="#727272" stroke-width="1.7"/>
<line x1="340.1" y1="71.00" x2="436.3" y2="71.00" stroke="#727272" stroke-width="1.7"/>
<line x1="254.5" y1="133.00" x2="354.4" y2="133.00" stroke="#727272" stroke-width="1.7"/>
<line x1="410.6" y1="133.00" x2="436.3" y2="133.00" stroke="#727272" stroke-width="1.7"/>
<path d="M254.50 27.44 L255.00 27.20 L255.50 26.89 L256.00 26.52 L256.50 26.06 L257.00 25.51 L257.50 24.88 L258.00 24.17 L258.50 23.38 L259.00 22.53 L259.50 21.63 L260.00 20.71 L260.50 19.78 L261.00 18.87 L261.50 18.00 L262.00 17.19 L262.50 16.45 L263.00 15.79 L263.50 15.23 L264.00 14.76 L264.50 14.39 L265.00 14.12 L265.50 13.94 L266.00 13.85 L266.50 13.82 L267.00 13.87 L267.50 13.99 L268.00 14.20 L268.50 14.50 L269.00 14.91 L269.50 15.41 L270.00 16.01 L270.50 16.69 L271.00 17.47 L271.50 18.32 L272.00 19.22 L272.50 20.16 L273.00 21.11 L273.50 22.05 L274.00 22.97 L274.50 23.83 L275.00 24.63 L275.50 25.36 L276.00 26.00 L276.50 26.55 L277.00 27.02 L277.50 27.41 L278.00 27.73 L278.50 27.99 L279.00 28.21 L279.50 28.38 L280.00 28.52 L280.50 28.64 L281.00 28.74 L281.50 28.83 L282.00 28.90 L282.50 28.96 L283.00 29.02 L283.50 29.06 L284.00 29.10" fill="none" stroke="#000" stroke-width="1.7" stroke-linejoin="round"/>
<path d="M254.50 49.77 L255.00 49.75 L255.50 49.74 L256.00 49.71 L256.50 49.69 L257.00 49.67 L257.50 49.64 L257.99 49.61 L258.49 49.59 L258.99 49.55 L259.49 49.52 L259.99 49.48 L260.49 49.44 L260.99 49.39 L261.49 49.34 L261.99 49.28 L262.49 49.21 L262.99 49.14 L263.49 49.05 L263.98 48.95 L264.48 48.84 L264.98 48.70 L265.48 48.55 L265.98 48.37 L266.48 48.17 L266.98 47.94 L267.48 47.69 L267.98 47.40 L268.48 47.08 L268.98 46.73 L269.48 46.35 L269.97 45.94 L270.47 45.50 L270.97 45.05 L271.47 44.58 L271.97 44.10 L272.47 43.61 L272.97 43.14 L273.47 42.68 L273.97 42.25 L274.47 41.87 L274.97 41.54 L275.46 41.28 L275.96 41.08 L276.46 40.97 L276.96 40.92 L277.46 40.94 L277.96 41.03 L278.46 41.17 L278.96 41.35 L279.46 41.56 L279.96 41.77 L280.46 41.97 L280.96 42.16 L281.45 42.32 L281.95 42.44 L282.45 42.51 L282.95 42.54 L283.45 42.52 L283.95 42.45 L284.45 42.34 L284.95 42.20 L285.45 42.02 L285.95 41.83 L286.45 41.62 L286.95 41.42 L287.44 41.24 L287.94 41.08 L288.44 40.97 L288.94 40.91 L289.44 40.90 L289.94 40.96 L290.44 41.07 L290.94 41.24 L291.44 41.48 L291.94 41.78 L292.44 42.14 L292.94 42.54 L293.44 42.97 L293.93 43.43 L294.43 43.91 L294.93 44.39 L295.43 44.86 L295.93 45.33 L296.43 45.78 L296.93 46.21 L297.43 46.61 L297.93 46.98 L298.43 47.32 L298.93 47.63 L299.42 47.91 L299.92 48.15 L300.42 48.37 L300.92 48.56 L301.42 48.72 L301.92 48.87 L302.42 48.99 L302.92 49.10 L303.42 49.20 L303.92 49.28 L304.42 49.36 L304.92 49.43 L305.41 49.49 L305.91 49.55 L306.41 49.60 L306.91 49.65 L307.41 49.70 L307.91 49.74 L308.41 49.78 L308.91 49.82 L309.41 49.85 L309.91 49.89 L310.41 49.92 L310.91 49.95 L311.40 49.98 L311.90 50.00 L312.40 50.03 L312.90 50.05 L313.40 50.07 L313.90 50.09 L314.40 50.10" fill="none" stroke="#000" stroke-width="1.7" stroke-linejoin="round"/>
<path d="M265.00 70.90 L265.50 70.89 L266.00 70.88 L266.50 70.86 L267.00 70.84 L267.50 70.82 L268.00 70.79 L268.50 70.75 L269.01 70.71 L269.51 70.67 L270.01 70.62 L270.51 70.56 L271.01 70.50 L271.51 70.44 L272.01 70.36 L272.51 70.28 L273.01 70.19 L273.51 70.10 L274.01 69.99 L274.51 69.88 L275.01 69.76 L275.51 69.63 L276.01 69.50 L276.52 69.35 L277.02 69.19 L277.52 69.03 L278.02 68.85 L278.52 68.67 L279.02 68.47 L279.52 68.26 L280.02 68.04 L280.52 67.80 L281.02 67.54 L281.52 67.26 L282.02 66.97 L282.52 66.65 L283.02 66.32 L283.52 65.96 L284.03 65.59 L284.53 65.20 L285.03 64.79 L285.53 64.36 L286.03 63.93 L286.53 63.50 L287.03 63.08 L287.53 62.69 L288.03 62.34 L288.53 62.07 L289.03 61.89 L289.53 61.95 L290.03 62.16 L290.53 62.44 L291.03 62.78 L291.54 63.14 L292.04 63.52 L292.54 63.91 L293.04 64.28 L293.54 64.64 L294.04 64.98 L294.54 65.30 L295.04 65.60 L295.54 65.87 L296.04 66.12 L296.54 66.35 L297.04 66.55 L297.54 66.73 L298.04 66.89 L298.54 67.03 L299.05 67.15 L299.55 67.25 L300.05 67.34 L300.55 67.41 L301.05 67.46 L301.55 67.50 L302.05 67.53 L302.55 67.54 L303.05 67.53 L303.55 67.51 L304.05 67.48 L304.55 67.44 L305.05 67.37 L305.55 67.30 L306.05 67.21 L306.55 67.10 L307.06 66.98 L307.56 66.84 L308.06 66.68 L308.56 66.51 L309.06 66.31 L309.56 66.10 L310.06 65.87 L310.56 65.63 L311.06 65.36 L311.56 65.09 L312.06 64.79 L312.56 64.49 L313.06 64.18 L313.56 63.86 L314.06 63.55 L314.57 63.24 L315.07 62.95 L315.57 62.68 L316.07 62.45 L316.57 62.27 L317.07 62.21 L317.57 62.42 L318.07 62.74 L318.57 63.12 L319.07 63.53 L319.57 63.97 L320.07 64.41 L320.57 64.86 L321.07 65.30 L321.57 65.73 L322.08 66.15 L322.58 66.55 L323.08 66.93 L323.58 67.28 L324.08 67.61 L324.58 67.92 L325.08 68.20 L325.58 68.46 L326.08 68.70 L326.58 68.91 L327.08 69.11 L327.58 69.28 L328.08 69.44 L328.58 69.59 L329.08 69.72 L329.59 69.84 L330.09 69.95 L330.59 70.05 L331.09 70.15 L331.59 70.23 L332.09 70.31 L332.59 70.37 L333.09 70.44 L333.59 70.50 L334.09 70.55 L334.59 70.60 L335.09 70.64 L335.59 70.68 L336.09 70.72 L336.59 70.76 L337.10 70.79 L337.60 70.81 L338.10 70.84 L338.60 70.86 L339.10 70.87 L339.60 70.89 L340.10 70.89 L340.60 70.90" fill="none" stroke="#000" stroke-width="1.7" stroke-linejoin="round"/>
<path d="M254.50 91.01 L255.00 91.01 L255.50 91.01 L256.00 91.01 L256.50 91.01 L257.00 91.01 L257.50 91.01 L258.00 91.01 L258.50 91.01 L259.00 91.01 L259.49 91.01 L259.99 91.01 L260.49 91.01 L260.99 91.01 L261.49 91.01 L261.99 91.01 L262.49 91.01 L262.99 91.01 L263.49 91.00 L263.99 91.00 L264.49 91.00 L264.99 91.00 L265.49 91.00 L265.99 91.00 L266.49 91.00 L266.99 91.00 L267.49 91.00 L267.99 91.00 L268.48 91.00 L268.98 91.00 L269.48 91.00 L269.98 91.00 L270.48 90.99 L270.98 90.99 L271.48 90.99 L271.98 90.99 L272.48 90.99 L272.98 90.99 L273.48 90.98 L273.98 90.98 L274.48 90.98 L274.98 90.98 L275.48 90.97 L275.98 90.97 L276.48 90.97 L276.98 90.96 L277.47 90.96 L277.97 90.95 L278.47 90.94 L278.97 90.93 L279.47 90.92 L279.97 90.91 L280.47 90.90 L280.97 90.88 L281.47 90.86 L281.97 90.84 L282.47 90.82 L282.97 90.79 L283.47 90.76 L283.97 90.72 L284.47 90.68 L284.97 90.63 L285.47 90.58 L285.97 90.52 L286.46 90.45 L286.96 90.37 L287.46 90.28 L287.96 90.18 L288.46 90.07 L288.96 89.95 L289.46 89.81 L289.96 89.65 L290.46 89.48 L290.96 89.30 L291.46 89.09 L291.96 88.86 L292.46 88.61 L292.96 88.34 L293.46 88.05 L293.96 87.74 L294.46 87.40 L294.96 87.04 L295.45 86.65 L295.95 86.25 L296.45 85.82 L296.95 85.38 L297.45 84.91 L297.95 84.44 L298.45 83.96 L298.95 83.47 L299.45 82.99 L299.95 82.51 L300.45 82.06 L300.95 81.63 L301.45 81.25 L301.95 80.93 L302.45 80.70 L302.95 80.70 L303.45 80.92 L303.95 81.23 L304.45 81.61 L304.94 82.03 L305.44 82.48 L305.94 82.94 L306.44 83.42 L306.94 83.90 L307.44 84.38 L307.94 84.85 L308.44 85.30 L308.94 85.74 L309.44 86.16 L309.94 86.56 L310.44 86.94 L310.94 87.29 L311.44 87.62 L311.94 87.93 L312.44 88.22 L312.94 88.48 L313.44 88.72 L313.93 88.94 L314.43 89.13 L314.93 89.31 L315.43 89.48 L315.93 89.62 L316.43 89.75 L316.93 89.86 L317.43 89.96 L317.93 90.05 L318.43 90.13 L318.93 90.20 L319.43 90.25 L319.93 90.30 L320.43 90.34 L320.93 90.38 L321.43 90.40 L321.93 90.42 L322.43 90.44 L322.92 90.45 L323.42 90.46 L323.92 90.46 L324.42 90.46 L324.92 90.45 L325.42 90.44 L325.92 90.43 L326.42 90.41 L326.92 90.40 L327.42 90.37 L327.92 90.35 L328.42 90.32 L328.92 90.29 L329.42 90.26 L329.92 90.22 L330.42 90.18 L330.92 90.14 L331.42 90.09 L331.91 90.04 L332.41 89.99 L332.91 89.93 L333.41 89.86 L333.91 89.79 L334.41 89.71 L334.91 89.63 L335.41 89.54 L335.91 89.44 L336.41 89.33 L336.91 89.22 L337.41 89.09 L337.91 88.95 L338.41 88.79 L338.91 88.63 L339.41 88.44 L339.91 88.24 L340.41 88.02 L340.90 87.78 L341.40 87.52 L341.90 87.23 L342.40 86.91 L342.90 86.56 L343.40 86.18 L343.90 85.76 L344.40 85.32 L344.90 84.84 L345.40 84.33 L345.90 83.79 L346.40 83.25 L346.90 82.70 L347.40 82.17 L347.90 81.68 L348.40 81.25 L348.90 80.91 L349.40 80.68 L349.90 80.59 L350.39 80.71 L350.89 80.96 L351.39 81.32 L351.89 81.76 L352.39 82.26 L352.89 82.79 L353.39 83.34 L353.89 83.89 L354.39 84.41 L354.89 84.92 L355.39 85.39 L355.89 85.84 L356.39 86.24 L356.89 86.62 L357.39 86.96 L357.89 87.28 L358.39 87.56 L358.89 87.83 L359.38 88.06 L359.88 88.28 L360.38 88.48 L360.88 88.66 L361.38 88.82 L361.88 88.97 L362.38 89.11 L362.88 89.24 L363.38 89.35 L363.88 89.46 L364.38 89.56 L364.88 89.65 L365.38 89.73 L365.88 89.81 L366.38 89.88 L366.88 89.94 L367.38 90.00 L367.88 90.06 L368.37 90.11 L368.87 90.16 L369.37 90.21 L369.87 90.25 L370.37 90.29 L370.87 90.32 L371.37 90.36 L371.87 90.39 L372.37 90.42 L372.87 90.45 L373.37 90.47 L373.87 90.50 L374.37 90.52 L374.87 90.54 L375.37 90.56 L375.87 90.58 L376.37 90.60 L376.87 90.61 L377.36 90.63 L377.86 90.65 L378.36 90.66 L378.86 90.67 L379.36 90.69 L379.86 90.70 L380.36 90.71 L380.86 90.72 L381.36 90.73 L381.86 90.74 L382.36 90.75 L382.86 90.76 L383.36 90.77 L383.86 90.78 L384.36 90.78 L384.86 90.79 L385.36 90.80 L385.86 90.81 L386.35 90.81 L386.85 90.82 L387.35 90.82 L387.85 90.83 L388.35 90.84 L388.85 90.84 L389.35 90.85 L389.85 90.85 L390.35 90.86 L390.85 90.86 L391.35 90.87 L391.85 90.87 L392.35 90.87 L392.85 90.88 L393.35 90.88 L393.85 90.89 L394.35 90.89 L394.85 90.89 L395.35 90.90 L395.84 90.90 L396.34 90.90 L396.84 90.91 L397.34 90.91 L397.84 90.91 L398.34 90.91 L398.84 90.92 L399.34 90.92 L399.84 90.92 L400.34 90.92 L400.84 90.93 L401.34 90.93 L401.84 90.93 L402.34 90.93 L402.84 90.94 L403.34 90.94 L403.84 90.94 L404.34 90.94 L404.83 90.94 L405.33 90.95 L405.83 90.95 L406.33 90.95 L406.83 90.95 L407.33 90.95 L407.83 90.95 L408.33 90.96 L408.83 90.96 L409.33 90.96 L409.83 90.96 L410.33 90.96 L410.83 90.96 L411.33 90.97 L411.83 90.97 L412.33 90.97 L412.83 90.97 L413.33 90.97 L413.82 90.97 L414.32 90.97 L414.82 90.97 L415.32 90.98 L415.82 90.98 L416.32 90.98 L416.82 90.98 L417.32 90.98 L417.82 90.98 L418.32 90.98 L418.82 90.98 L419.32 90.98 L419.82 90.98 L420.32 90.99 L420.82 90.99 L421.32 90.99 L421.82 90.99 L422.32 90.99 L422.81 90.99 L423.31 90.99 L423.81 90.99 L424.31 90.99 L424.81 90.99 L425.31 90.99 L425.81 90.99 L426.31 91.00 L426.81 91.00 L427.31 91.00 L427.81 91.00 L428.31 91.00 L428.81 91.00 L429.31 91.00 L429.81 91.00 L430.31 91.00 L430.81 91.00 L431.31 91.00 L431.80 91.00 L432.30 91.00 L432.80 91.00 L433.30 91.00 L433.80 91.00 L434.30 91.00 L434.80 91.01 L435.30 91.01 L435.80 91.01 L436.30 91.01" fill="none" stroke="#000" stroke-width="1.7" stroke-linejoin="round"/>
<path d="M254.50 111.91 L255.00 111.90 L255.50 111.90 L256.00 111.90 L256.50 111.90 L257.00 111.90 L257.50 111.90 L258.00 111.89 L258.50 111.89 L259.00 111.89 L259.49 111.89 L259.99 111.89 L260.49 111.88 L260.99 111.88 L261.49 111.88 L261.99 111.88 L262.49 111.88 L262.99 111.87 L263.49 111.87 L263.99 111.87 L264.49 111.87 L264.99 111.86 L265.49 111.86 L265.99 111.86 L266.49 111.85 L266.99 111.85 L267.49 111.85 L267.99 111.85 L268.48 111.84 L268.98 111.84 L269.48 111.84 L269.98 111.83 L270.48 111.83 L270.98 111.82 L271.48 111.82 L271.98 111.82 L272.48 111.81 L272.98 111.81 L273.48 111.80 L273.98 111.80 L274.48 111.80 L274.98 111.79 L275.48 111.79 L275.98 111.78 L276.48 111.77 L276.98 111.77 L277.47 111.76 L277.97 111.76 L278.47 111.75 L278.97 111.74 L279.47 111.74 L279.97 111.73 L280.47 111.72 L280.97 111.72 L281.47 111.71 L281.97 111.70 L282.47 111.69 L282.97 111.68 L283.47 111.67 L283.97 111.66 L284.47 111.65 L284.97 111.64 L285.47 111.63 L285.97 111.61 L286.46 111.60 L286.96 111.59 L287.46 111.57 L287.96 111.56 L288.46 111.54 L288.96 111.52 L289.46 111.50 L289.96 111.48 L290.46 111.46 L290.96 111.43 L291.46 111.41 L291.96 111.38 L292.46 111.35 L292.96 111.31 L293.46 111.28 L293.96 111.24 L294.46 111.20 L294.96 111.15 L295.45 111.10 L295.95 111.04 L296.45 110.98 L296.95 110.92 L297.45 110.84 L297.95 110.76 L298.45 110.67 L298.95 110.57 L299.45 110.47 L299.95 110.35 L300.45 110.22 L300.95 110.07 L301.45 109.92 L301.95 109.74 L302.45 109.55 L302.95 109.35 L303.45 109.12 L303.95 108.87 L304.45 108.59 L304.94 108.29 L305.44 107.97 L305.94 107.61 L306.44 107.22 L306.94 106.80 L307.44 106.34 L307.94 105.84 L308.44 105.31 L308.94 104.73 L309.44 104.11 L309.94 103.45 L310.44 102.75 L310.94 102.02 L311.44 101.25 L311.94 100.45 L312.44 99.64 L312.94 98.83 L313.44 98.05 L313.93 97.30 L314.43 96.63 L314.93 96.06 L315.43 95.62 L315.93 95.36 L316.43 95.40 L316.93 95.71 L317.43 96.18 L317.93 96.78 L318.43 97.47 L318.93 98.23 L319.43 99.02 L319.93 99.83 L320.43 100.63 L320.93 101.42 L321.43 102.18 L321.93 102.91 L322.43 103.60 L322.92 104.25 L323.42 104.86 L323.92 105.42 L324.42 105.95 L324.92 106.43 L325.42 106.88 L325.92 107.29 L326.42 107.67 L326.92 108.02 L327.42 108.34 L327.92 108.63 L328.42 108.90 L328.92 109.14 L329.42 109.36 L329.92 109.57 L330.42 109.75 L330.92 109.92 L331.42 110.07 L331.91 110.21 L332.41 110.33 L332.91 110.45 L333.41 110.55 L333.91 110.65 L334.41 110.73 L334.91 110.81 L335.41 110.88 L335.91 110.94 L336.41 111.00 L336.91 111.05 L337.41 111.10 L337.91 111.15 L338.41 111.18 L338.91 111.22 L339.41 111.25 L339.91 111.28 L340.41 111.31 L340.90 111.34 L341.40 111.36 L341.90 111.38 L342.40 111.40 L342.90 111.42 L343.40 111.44 L343.90 111.45 L344.40 111.47 L344.90 111.48 L345.40 111.49 L345.90 111.50 L346.40 111.51 L346.90 111.52 L347.40 111.53 L347.90 111.54 L348.40 111.55 L348.90 111.55 L349.40 111.56 L349.90 111.56 L350.39 111.57 L350.89 111.57 L351.39 111.58 L351.89 111.58 L352.39 111.58 L352.89 111.58 L353.39 111.59 L353.89 111.59 L354.39 111.59 L354.89 111.59 L355.39 111.59 L355.89 111.59 L356.39 111.59 L356.89 111.59 L357.39 111.58 L357.89 111.58 L358.39 111.58 L358.89 111.58 L359.38 111.57 L359.88 111.57 L360.38 111.56 L360.88 111.55 L361.38 111.55 L361.88 111.54 L362.38 111.53 L362.88 111.52 L363.38 111.51 L363.88 111.49 L364.38 111.48 L364.88 111.46 L365.38 111.45 L365.88 111.43 L366.38 111.40 L366.88 111.38 L367.38 111.35 L367.88 111.32 L368.37 111.29 L368.87 111.25 L369.37 111.21 L369.87 111.16 L370.37 111.10 L370.87 111.04 L371.37 110.98 L371.87 110.90 L372.37 110.82 L372.87 110.72 L373.37 110.62 L373.87 110.50 L374.37 110.37 L374.87 110.23 L375.37 110.07 L375.87 109.89 L376.37 109.70 L376.87 109.48 L377.36 109.24 L377.86 108.97 L378.36 108.68 L378.86 108.36 L379.36 108.02 L379.86 107.63 L380.36 107.22 L380.86 106.77 L381.36 106.28 L381.86 105.75 L382.36 105.18 L382.86 104.57 L383.36 103.92 L383.86 103.23 L384.36 102.50 L384.86 101.74 L385.36 100.95 L385.86 100.14 L386.35 99.32 L386.85 98.51 L387.35 97.72 L387.85 96.98 L388.35 96.32 L388.85 95.75 L389.35 95.33 L389.85 95.09 L390.35 95.21 L390.85 95.58 L391.35 96.10 L391.85 96.73 L392.35 97.45 L392.85 98.22 L393.35 99.03 L393.85 99.85 L394.35 100.67 L394.85 101.46 L395.35 102.24 L395.84 102.98 L396.34 103.69 L396.84 104.36 L397.34 104.98 L397.84 105.57 L398.34 106.11 L398.84 106.62 L399.34 107.09 L399.84 107.52 L400.34 107.91 L400.84 108.28 L401.34 108.61 L401.84 108.91 L402.34 109.19 L402.84 109.44 L403.34 109.67 L403.84 109.87 L404.34 110.06 L404.83 110.23 L405.33 110.38 L405.83 110.52 L406.33 110.64 L406.83 110.75 L407.33 110.85 L407.83 110.94 L408.33 111.02 L408.83 111.09 L409.33 111.16 L409.83 111.22 L410.33 111.27 L410.83 111.32 L411.33 111.36 L411.83 111.40 L412.33 111.43 L412.83 111.46 L413.33 111.49 L413.82 111.52 L414.32 111.54 L414.82 111.57 L415.32 111.58 L415.82 111.60 L416.32 111.62 L416.82 111.64 L417.32 111.65 L417.82 111.66 L418.32 111.68 L418.82 111.69 L419.32 111.70 L419.82 111.71 L420.32 111.72 L420.82 111.73 L421.32 111.74 L421.82 111.74 L422.32 111.75 L422.81 111.76 L423.31 111.77 L423.81 111.77 L424.31 111.78 L424.81 111.78 L425.31 111.79 L425.81 111.80 L426.31 111.80 L426.81 111.81 L427.31 111.81 L427.81 111.82 L428.31 111.82 L428.81 111.82 L429.31 111.83 L429.81 111.83 L430.31 111.84 L430.81 111.84 L431.31 111.84 L431.80 111.85 L432.30 111.85 L432.80 111.85 L433.30 111.86 L433.80 111.86 L434.30 111.86 L434.80 111.87 L435.30 111.87 L435.80 111.87 L436.30 111.87" fill="none" stroke="#000" stroke-width="1.7" stroke-linejoin="round"/>
<path d="M353.90 132.90 L354.40 132.85 L354.90 132.80 L355.41 132.74 L355.91 132.67 L356.41 132.60 L356.91 132.51 L357.41 132.42 L357.91 132.32 L358.42 132.22 L358.92 132.10 L359.42 131.98 L359.92 131.84 L360.42 131.69 L360.92 131.53 L361.43 131.36 L361.93 131.18 L362.43 130.97 L362.93 130.75 L363.43 130.50 L363.94 130.23 L364.44 129.92 L364.94 129.57 L365.44 129.19 L365.94 128.76 L366.44 128.30 L366.95 127.81 L367.45 127.30 L367.95 126.78 L368.45 126.27 L368.95 125.78 L369.45 125.36 L369.96 125.03 L370.46 124.82 L370.96 124.75 L371.46 124.83 L371.96 125.03 L372.46 125.32 L372.97 125.66 L373.47 126.04 L373.97 126.42 L374.47 126.79 L374.97 127.14 L375.48 127.45 L375.98 127.72 L376.48 127.96 L376.98 128.15 L377.48 128.30 L377.98 128.42 L378.49 128.51 L378.99 128.58 L379.49 128.63 L379.99 128.66 L380.49 128.68 L380.99 128.69 L381.50 128.69 L382.00 128.68 L382.50 128.65 L383.00 128.62 L383.50 128.58 L384.01 128.53 L384.51 128.46 L385.01 128.38 L385.51 128.28 L386.01 128.17 L386.51 128.05 L387.02 127.93 L387.52 127.78 L388.02 127.59 L388.52 127.37 L389.02 127.12 L389.52 126.83 L390.03 126.52 L390.53 126.19 L391.03 125.87 L391.53 125.55 L392.03 125.27 L392.54 125.03 L393.04 124.86 L393.54 124.77 L394.04 124.78 L394.54 124.90 L395.04 125.12 L395.55 125.43 L396.05 125.82 L396.55 126.26 L397.05 126.75 L397.55 127.25 L398.05 127.77 L398.56 128.29 L399.06 128.78 L399.56 129.25 L400.06 129.68 L400.56 130.07 L401.06 130.42 L401.57 130.73 L402.07 131.00 L402.57 131.24 L403.07 131.45 L403.57 131.63 L404.08 131.79 L404.58 131.93 L405.08 132.05 L405.58 132.16 L406.08 132.26 L406.58 132.35 L407.09 132.44 L407.59 132.52 L408.09 132.59 L408.59 132.65 L409.09 132.71 L409.59 132.77 L410.10 132.82 L410.60 132.86 L411.10 132.90" fill="none" stroke="#000" stroke-width="1.7" stroke-linejoin="round"/>
<path d="M390.00 154.30 L390.50 154.29 L391.00 154.27 L391.49 154.25 L391.99 154.23 L392.49 154.20 L392.99 154.17 L393.48 154.14 L393.98 154.10 L394.48 154.06 L394.98 154.02 L395.48 153.98 L395.97 153.93 L396.47 153.89 L396.97 153.84 L397.47 153.78 L397.97 153.73 L398.46 153.67 L398.96 153.61 L399.46 153.55 L399.96 153.48 L400.45 153.41 L400.95 153.33 L401.45 153.25 L401.95 153.15 L402.45 153.04 L402.94 152.89 L403.44 152.72 L403.94 152.49 L404.44 152.21 L404.94 151.85 L405.43 151.40 L405.93 150.87 L406.43 150.24 L406.93 149.53 L407.42 148.73 L407.92 147.88 L408.42 146.98 L408.92 146.07 L409.42 145.16 L409.91 144.28 L410.41 143.45 L410.91 142.68 L411.41 141.99 L411.91 141.38 L412.40 140.86 L412.90 140.43 L413.40 140.08 L413.90 139.81 L414.39 139.61 L414.89 139.48 L415.39 139.40 L415.89 139.37 L416.39 139.39 L416.88 139.46 L417.38 139.58 L417.88 139.76 L418.38 140.02 L418.88 140.36 L419.37 140.77 L419.87 141.28 L420.37 141.86 L420.87 142.54 L421.36 143.29 L421.86 144.11 L422.36 144.98 L422.86 145.89 L423.36 146.81 L423.85 147.71 L424.35 148.57 L424.85 149.37 L425.35 150.10 L425.85 150.73 L426.34 151.27 L426.84 151.72 L427.34 152.08 L427.84 152.36 L428.33 152.58 L428.83 152.74 L429.33 152.87 L429.83 152.97 L430.33 153.04 L430.82 153.11 L431.32 153.16 L431.82 153.20 L432.32 153.25 L432.82 153.28 L433.31 153.32 L433.81 153.35 L434.31 153.38 L434.81 153.41 L435.30 153.43 L435.80 153.46 L436.30 153.48" fill="none" stroke="#000" stroke-width="1.7" stroke-linejoin="round"/>
<line x1="254.5" y1="6.8" x2="436.3" y2="6.8" stroke="#666" stroke-width="1.5"/>
<line x1="436.3" y1="6.8" x2="436.3" y2="154.5" stroke="#111" stroke-width="1.4"/>
<line x1="254.5" y1="6.1" x2="254.5" y2="155.2" stroke="#000" stroke-width="1.3"/>
<line x1="254.5" y1="154.5" x2="437.0" y2="154.5" stroke="#000" stroke-width="1.5"/>
<line x1="254.50" y1="154.5" x2="254.50" y2="158.8" stroke="#000" stroke-width="1.1"/>
<text transform="translate(254.70 167.30) scale(1.1 1)" text-anchor="middle" font-size="9.1" stroke="#000" stroke-width="0.4">0.20</text>
<line x1="271.07" y1="154.5" x2="271.07" y2="157.3" stroke="#000" stroke-width="1.1"/>
<line x1="287.65" y1="154.5" x2="287.65" y2="158.8" stroke="#000" stroke-width="1.1"/>
<text transform="translate(287.85 167.30) scale(1.1 1)" text-anchor="middle" font-size="9.1" stroke="#000" stroke-width="0.4">0.22</text>
<line x1="304.23" y1="154.5" x2="304.23" y2="157.3" stroke="#000" stroke-width="1.1"/>
<line x1="320.80" y1="154.5" x2="320.80" y2="158.8" stroke="#000" stroke-width="1.1"/>
<text transform="translate(321.00 167.30) scale(1.1 1)" text-anchor="middle" font-size="9.1" stroke="#000" stroke-width="0.4">0.24</text>
<line x1="337.38" y1="154.5" x2="337.38" y2="157.3" stroke="#000" stroke-width="1.1"/>
<line x1="353.95" y1="154.5" x2="353.95" y2="158.8" stroke="#000" stroke-width="1.1"/>
<text transform="translate(354.15 167.30) scale(1.1 1)" text-anchor="middle" font-size="9.1" stroke="#000" stroke-width="0.4">0.26</text>
<line x1="370.52" y1="154.5" x2="370.52" y2="157.3" stroke="#000" stroke-width="1.1"/>
<line x1="387.10" y1="154.5" x2="387.10" y2="158.8" stroke="#000" stroke-width="1.1"/>
<text transform="translate(387.30 167.30) scale(1.1 1)" text-anchor="middle" font-size="9.1" stroke="#000" stroke-width="0.4">0.28</text>
<line x1="403.68" y1="154.5" x2="403.68" y2="157.3" stroke="#000" stroke-width="1.1"/>
<line x1="420.25" y1="154.5" x2="420.25" y2="158.8" stroke="#000" stroke-width="1.1"/>
<text transform="translate(420.45 167.30) scale(1.1 1)" text-anchor="middle" font-size="9.1" stroke="#000" stroke-width="0.4">0.30</text>
<line x1="348.9" y1="3.7" x2="348.9" y2="159.4" stroke="#0000f0" stroke-width="1.7" stroke-dasharray="2.4 2.53"/>
<text transform="translate(345.60 178.60) scale(1.013 1)" text-anchor="middle" font-size="10.5" stroke="#000" stroke-width="0.4">Dimensionless energy</text>
<text transform="translate(247.90 80.75) rotate(-90) scale(1 1.0)" text-anchor="middle" font-size="10.7" stroke="#000" stroke-width="0.45">Lineshape (arb. units)</text>
<text transform="translate(430.30 18.00) scale(1.17 1)" text-anchor="end" font-size="8.7" stroke="#000" stroke-width="0.4">(10,0)</text>
<text transform="translate(451.90 20.50) scale(1.08 1)" text-anchor="middle" font-size="14" font-weight="bold">(b)</text>
<line x1="119" y1="188" x2="350.3" y2="188" stroke="#000" stroke-width="1.5"/>
<line x1="119" y1="368" x2="350.3" y2="368" stroke="#000" stroke-width="1.8"/>
<line x1="120" y1="187.25" x2="120" y2="368.9" stroke="#000" stroke-width="2"/>
<line x1="349.3" y1="187.25" x2="349.3" y2="368.9" stroke="#000" stroke-width="2"/>
<line x1="183.1" y1="215.40" x2="319.5" y2="215.40" stroke="#727272" stroke-width="1.7"/>
<line x1="183.1" y1="215.30" x2="195.5" y2="215.30" stroke="#555" stroke-width="1.9"/>
<line x1="215.5" y1="236.00" x2="319.5" y2="236.00" stroke="#727272" stroke-width="1.7"/>
<line x1="270.8" y1="256.80" x2="319.5" y2="256.80" stroke="#727272" stroke-width="1.7"/>
<line x1="137.5" y1="319.40" x2="213.5" y2="319.40" stroke="#727272" stroke-width="1.7"/>
<line x1="189" y1="319.30" x2="213.5" y2="319.30" stroke="#555" stroke-width="1.9"/>
<line x1="295.5" y1="319.40" x2="319.5" y2="319.40" stroke="#727272" stroke-width="1.7"/>
<line x1="314.5" y1="339.60" x2="319.5" y2="339.60" stroke="#727272" stroke-width="1.7"/>
<path d="M137.50 213.09 L138.00 212.91 L138.50 212.70 L139.00 212.46 L139.50 212.19 L140.01 211.88 L140.51 211.53 L141.01 211.13 L141.51 210.71 L142.01 210.24 L142.51 209.75 L143.01 209.22 L143.51 208.68 L144.01 208.13 L144.52 207.57 L145.02 207.01 L145.52 206.46 L146.02 205.93 L146.52 205.43 L147.02 204.96 L147.52 204.55 L148.02 204.18 L148.52 203.88 L149.03 203.64 L149.53 203.47 L150.03 203.36 L150.53 203.30 L151.03 203.31 L151.53 203.36 L152.03 203.45 L152.53 203.56 L153.03 203.69 L153.53 203.82 L154.04 203.94 L154.54 204.04 L155.04 204.13 L155.54 204.18 L156.04 204.21 L156.54 204.20 L157.04 204.16 L157.54 204.08 L158.04 203.99 L158.55 203.87 L159.05 203.74 L159.55 203.61 L160.05 203.50 L160.55 203.40 L161.05 203.35 L161.55 203.34 L162.05 203.39 L162.55 203.50 L163.06 203.66 L163.56 203.89 L164.06 204.19 L164.56 204.56 L165.06 204.98 L165.56 205.45 L166.06 205.96 L166.56 206.50 L167.06 207.06 L167.57 207.62 L168.07 208.19 L168.57 208.75 L169.07 209.30 L169.57 209.82 L170.07 210.33 L170.57 210.80 L171.07 211.25 L171.57 211.67 L172.07 212.06 L172.58 212.42 L173.08 212.74 L173.58 213.03 L174.08 213.30 L174.58 213.54 L175.08 213.75 L175.58 213.94 L176.08 214.11 L176.58 214.26 L177.09 214.40 L177.59 214.52 L178.09 214.63 L178.59 214.73 L179.09 214.82 L179.59 214.90 L180.09 214.97 L180.59 215.04 L181.09 215.10 L181.60 215.15 L182.10 215.20 L182.60 215.24 L183.10 215.27 L183.60 215.30" fill="none" stroke="#000" stroke-width="1.7" stroke-linejoin="round"/>
<path d="M137.50 234.70 L138.00 234.61 L138.50 234.52 L139.00 234.41 L139.50 234.29 L140.00 234.16 L140.50 234.02 L141.00 233.86 L141.50 233.68 L142.00 233.48 L142.50 233.27 L143.00 233.04 L143.50 232.78 L144.00 232.50 L144.50 232.21 L145.00 231.89 L145.50 231.55 L146.00 231.19 L146.50 230.81 L147.00 230.41 L147.50 230.00 L148.00 229.57 L148.50 229.14 L149.00 228.72 L149.50 228.30 L150.00 227.89 L150.50 227.52 L151.00 227.18 L151.50 226.90 L152.00 226.67 L152.50 226.51 L153.00 226.42 L153.50 226.41 L154.00 226.47 L154.50 226.59 L155.00 226.77 L155.50 227.00 L156.00 227.26 L156.50 227.55 L157.00 227.85 L157.50 228.16 L158.00 228.48 L158.50 228.78 L159.00 229.08 L159.50 229.36 L160.00 229.63 L160.50 229.88 L161.00 230.12 L161.50 230.33 L162.00 230.53 L162.50 230.71 L163.00 230.87 L163.50 231.01 L164.00 231.14 L164.50 231.25 L165.00 231.35 L165.50 231.43 L166.00 231.50 L166.50 231.55 L167.00 231.59 L167.50 231.63 L168.00 231.65 L168.50 231.66 L169.00 231.67 L169.50 231.66 L170.00 231.65 L170.50 231.62 L171.00 231.59 L171.50 231.55 L172.00 231.50 L172.50 231.44 L173.00 231.36 L173.50 231.28 L174.00 231.17 L174.50 231.04 L175.00 230.89 L175.50 230.70 L176.00 230.48 L176.50 230.23 L177.00 229.95 L177.50 229.65 L178.00 229.34 L178.50 229.01 L179.00 228.69 L179.50 228.37 L180.00 228.06 L180.50 227.76 L181.00 227.47 L181.50 227.21 L182.00 226.97 L182.50 226.77 L183.00 226.62 L183.50 226.52 L184.00 226.48 L184.50 226.50 L185.00 226.59 L185.50 226.74 L186.00 226.95 L186.50 227.21 L187.00 227.51 L187.50 227.85 L188.00 228.21 L188.50 228.59 L189.00 228.99 L189.50 229.40 L190.00 229.81 L190.50 230.22 L191.00 230.63 L191.50 231.04 L192.00 231.42 L192.50 231.78 L193.00 232.11 L193.50 232.40 L194.00 232.66 L194.50 232.89 L195.00 233.09 L195.50 233.27 L196.00 233.44 L196.50 233.58 L197.00 233.72 L197.50 233.85 L198.00 233.97 L198.50 234.08 L199.00 234.19 L199.50 234.29 L200.00 234.38 L200.50 234.46 L201.00 234.54 L201.50 234.62 L202.00 234.69 L202.50 234.76 L203.00 234.82 L203.50 234.89 L204.00 234.95 L204.50 235.01 L205.00 235.07 L205.50 235.13 L206.00 235.18 L206.50 235.24 L207.00 235.29 L207.50 235.34 L208.00 235.39 L208.50 235.44 L209.00 235.48 L209.50 235.53 L210.00 235.57 L210.50 235.61 L211.00 235.65 L211.50 235.69 L212.00 235.72 L212.50 235.75 L213.00 235.78 L213.50 235.81 L214.00 235.83 L214.50 235.85 L215.00 235.87 L215.50 235.89 L216.00 235.90" fill="none" stroke="#000" stroke-width="1.7" stroke-linejoin="round"/>
<path d="M137.50 256.26 L138.00 256.24 L138.50 256.22 L139.00 256.20 L139.50 256.18 L140.00 256.15 L140.50 256.12 L140.99 256.09 L141.49 256.06 L141.99 256.02 L142.49 255.98 L142.99 255.94 L143.49 255.89 L143.99 255.84 L144.49 255.79 L144.99 255.73 L145.49 255.66 L145.99 255.59 L146.49 255.51 L146.99 255.43 L147.49 255.34 L147.98 255.24 L148.48 255.13 L148.98 255.02 L149.48 254.89 L149.98 254.76 L150.48 254.62 L150.98 254.46 L151.48 254.30 L151.98 254.12 L152.48 253.93 L152.98 253.73 L153.48 253.51 L153.98 253.28 L154.47 253.04 L154.97 252.78 L155.47 252.51 L155.97 252.23 L156.47 251.93 L156.97 251.62 L157.47 251.30 L157.97 250.96 L158.47 250.62 L158.97 250.27 L159.47 249.91 L159.97 249.55 L160.47 249.18 L160.96 248.82 L161.46 248.47 L161.96 248.14 L162.46 247.82 L162.96 247.53 L163.46 247.27 L163.96 247.05 L164.46 246.89 L164.96 246.78 L165.46 246.75 L165.96 246.82 L166.46 246.96 L166.96 247.15 L167.46 247.39 L167.95 247.66 L168.45 247.97 L168.95 248.29 L169.45 248.64 L169.95 248.99 L170.45 249.35 L170.95 249.71 L171.45 250.07 L171.95 250.43 L172.45 250.77 L172.95 251.10 L173.45 251.42 L173.95 251.71 L174.44 251.99 L174.94 252.25 L175.44 252.48 L175.94 252.69 L176.44 252.87 L176.94 253.03 L177.44 253.17 L177.94 253.28 L178.44 253.38 L178.94 253.46 L179.44 253.52 L179.94 253.58 L180.44 253.62 L180.94 253.66 L181.43 253.70 L181.93 253.74 L182.43 253.77 L182.93 253.80 L183.43 253.84 L183.93 253.87 L184.43 253.89 L184.93 253.92 L185.43 253.94 L185.93 253.96 L186.43 253.97 L186.93 253.98 L187.43 253.98 L187.92 253.98 L188.42 253.96 L188.92 253.94 L189.42 253.90 L189.92 253.86 L190.42 253.80 L190.92 253.74 L191.42 253.66 L191.92 253.57 L192.42 253.47 L192.92 253.36 L193.42 253.23 L193.92 253.10 L194.41 252.95 L194.91 252.79 L195.41 252.62 L195.91 252.44 L196.41 252.25 L196.91 252.05 L197.41 251.85 L197.91 251.63 L198.41 251.40 L198.91 251.17 L199.41 250.93 L199.91 250.67 L200.41 250.41 L200.91 250.14 L201.40 249.86 L201.90 249.56 L202.40 249.26 L202.90 248.94 L203.40 248.62 L203.90 248.30 L204.40 247.99 L204.90 247.68 L205.40 247.40 L205.90 247.17 L206.40 247.00 L206.90 247.05 L207.40 247.28 L207.89 247.57 L208.39 247.90 L208.89 248.27 L209.39 248.66 L209.89 249.06 L210.39 249.46 L210.89 249.87 L211.39 250.27 L211.89 250.67 L212.39 251.06 L212.89 251.44 L213.39 251.81 L213.89 252.16 L214.39 252.50 L214.88 252.82 L215.38 253.12 L215.88 253.40 L216.38 253.67 L216.88 253.92 L217.38 254.16 L217.88 254.38 L218.38 254.58 L218.88 254.77 L219.38 254.94 L219.88 255.10 L220.38 255.24 L220.88 255.38 L221.37 255.50 L221.87 255.61 L222.37 255.71 L222.87 255.80 L223.37 255.89 L223.87 255.96 L224.37 256.03 L224.87 256.09 L225.37 256.15 L225.87 256.20 L226.37 256.24 L226.87 256.28 L227.37 256.32 L227.86 256.35 L228.36 256.38 L228.86 256.40 L229.36 256.42 L229.86 256.44 L230.36 256.46 L230.86 256.48 L231.36 256.49 L231.86 256.50 L232.36 256.51 L232.86 256.52 L233.36 256.53 L233.86 256.54 L234.36 256.55 L234.85 256.55 L235.35 256.56 L235.85 256.56 L236.35 256.57 L236.85 256.57 L237.35 256.57 L237.85 256.58 L238.35 256.58 L238.85 256.58 L239.35 256.58 L239.85 256.58 L240.35 256.59 L240.85 256.59 L241.34 256.59 L241.84 256.59 L242.34 256.59 L242.84 256.59 L243.34 256.59 L243.84 256.59 L244.34 256.59 L244.84 256.60 L245.34 256.60 L245.84 256.60 L246.34 256.60 L246.84 256.60 L247.34 256.60 L247.84 256.60 L248.33 256.60 L248.83 256.60 L249.33 256.60 L249.83 256.60 L250.33 256.60 L250.83 256.60 L251.33 256.60 L251.83 256.60 L252.33 256.60 L252.83 256.60 L253.33 256.60 L253.83 256.60 L254.33 256.61 L254.82 256.61 L255.32 256.61 L255.82 256.61 L256.32 256.61 L256.82 256.61 L257.32 256.61 L257.82 256.61 L258.32 256.61 L258.82 256.61 L259.32 256.61 L259.82 256.62 L260.32 256.62 L260.82 256.62 L261.31 256.63 L261.81 256.63 L262.31 256.64 L262.81 256.64 L263.31 256.64 L263.81 256.65 L264.31 256.65 L264.81 256.66 L265.31 256.66 L265.81 256.67 L266.31 256.67 L266.81 256.68 L267.31 256.68 L267.81 256.69 L268.30 256.69 L268.80 256.69 L269.30 256.69 L269.80 256.70 L270.30 256.70 L270.80 256.70 L271.30 256.70" fill="none" stroke="#000" stroke-width="1.7" stroke-linejoin="round"/>
<path d="M137.50 276.24 L138.00 276.20 L138.50 276.15 L139.00 276.10 L139.50 276.05 L140.00 276.00 L140.50 275.94 L141.00 275.87 L141.50 275.80 L142.00 275.72 L142.50 275.63 L143.00 275.54 L143.50 275.44 L144.00 275.32 L144.50 275.19 L145.00 275.05 L145.50 274.90 L146.00 274.73 L146.50 274.54 L147.00 274.34 L147.50 274.11 L148.00 273.86 L148.50 273.59 L149.00 273.30 L149.50 272.98 L150.00 272.63 L150.50 272.26 L151.00 271.86 L151.50 271.42 L152.00 270.96 L152.50 270.48 L153.00 269.96 L153.50 269.42 L154.00 268.85 L154.50 268.26 L155.00 267.65 L155.50 267.02 L156.00 266.39 L156.50 265.75 L157.00 265.11 L157.50 264.49 L158.00 263.89 L158.50 263.32 L159.00 262.80 L159.50 262.34 L160.00 261.95 L160.50 261.64 L161.00 261.43 L161.50 261.32 L162.00 261.31 L162.50 261.41 L163.00 261.61 L163.50 261.91 L164.00 262.29 L164.50 262.74 L165.00 263.25 L165.50 263.81 L166.00 264.41 L166.50 265.03 L167.00 265.66 L167.50 266.30 L168.00 266.93 L168.50 267.56 L169.00 268.17 L169.50 268.76 L170.00 269.33 L170.50 269.87 L171.00 270.39 L171.50 270.88 L172.00 271.34 L172.50 271.77 L173.00 272.17 L173.50 272.55 L174.00 272.89 L174.50 273.21 L175.00 273.51 L175.50 273.78 L176.00 274.02 L176.50 274.25 L177.00 274.46 L177.50 274.64 L178.00 274.81 L178.50 274.96 L179.00 275.10 L179.50 275.23 L180.00 275.34 L180.50 275.45 L181.00 275.54 L181.50 275.62 L182.00 275.70 L182.50 275.77 L183.00 275.83 L183.50 275.89 L184.00 275.94 L184.50 275.99 L185.00 276.04 L185.50 276.08 L186.00 276.12 L186.50 276.15 L187.00 276.19 L187.50 276.22 L188.00 276.24 L188.50 276.27 L189.00 276.30 L189.50 276.32 L190.00 276.34 L190.50 276.36 L191.00 276.38 L191.50 276.40 L192.00 276.42 L192.50 276.43 L193.00 276.45 L193.50 276.46 L194.00 276.47 L194.50 276.49 L195.00 276.50 L195.50 276.51 L196.00 276.52 L196.50 276.53 L197.00 276.54 L197.50 276.54 L198.00 276.55 L198.50 276.56 L199.00 276.56 L199.50 276.57 L200.00 276.58 L200.50 276.58 L201.00 276.58 L201.50 276.59 L202.00 276.59 L202.50 276.59 L203.00 276.59 L203.50 276.60 L204.00 276.60 L204.50 276.60 L205.00 276.60 L205.50 276.60 L206.00 276.60 L206.50 276.59 L207.00 276.59 L207.50 276.59 L208.00 276.59 L208.50 276.58 L209.00 276.58 L209.50 276.58 L210.00 276.57 L210.50 276.57 L211.00 276.56 L211.50 276.55 L212.00 276.55 L212.50 276.54 L213.00 276.53 L213.50 276.52 L214.00 276.51 L214.50 276.50 L215.00 276.49 L215.50 276.48 L216.00 276.46 L216.50 276.45 L217.00 276.44 L217.50 276.42 L218.00 276.41 L218.50 276.39 L219.00 276.37 L219.50 276.35 L220.00 276.33 L220.50 276.31 L221.00 276.29 L221.50 276.26 L222.00 276.24 L222.50 276.21 L223.00 276.18 L223.50 276.15 L224.00 276.11 L224.50 276.08 L225.00 276.04 L225.50 275.99 L226.00 275.95 L226.50 275.90 L227.00 275.84 L227.50 275.78 L228.00 275.72 L228.50 275.65 L229.00 275.57 L229.50 275.48 L230.00 275.39 L230.50 275.29 L231.00 275.17 L231.50 275.05 L232.00 274.91 L232.50 274.75 L233.00 274.58 L233.50 274.40 L234.00 274.19 L234.50 273.97 L235.00 273.72 L235.50 273.45 L236.00 273.16 L236.50 272.85 L237.00 272.51 L237.50 272.14 L238.00 271.75 L238.50 271.33 L239.00 270.88 L239.50 270.41 L240.00 269.91 L240.50 269.39 L241.00 268.85 L241.50 268.28 L242.00 267.70 L242.50 267.10 L243.00 266.49 L243.50 265.88 L244.00 265.27 L244.50 264.67 L245.00 264.08 L245.50 263.53 L246.00 263.00 L246.50 262.53 L247.00 262.10 L247.50 261.75 L248.00 261.47 L248.50 261.28 L249.00 261.17 L249.50 261.16 L250.00 261.23 L250.50 261.40 L251.00 261.65 L251.50 261.98 L252.00 262.38 L252.50 262.84 L253.00 263.35 L253.50 263.90 L254.00 264.48 L254.50 265.08 L255.00 265.69 L255.50 266.30 L256.00 266.91 L256.50 267.51 L257.00 268.11 L257.50 268.68 L258.00 269.23 L258.50 269.77 L259.00 270.28 L259.50 270.76 L260.00 271.22 L260.50 271.65 L261.00 272.05 L261.50 272.43 L262.00 272.78 L262.50 273.11 L263.00 273.41 L263.50 273.69 L264.00 273.94 L264.50 274.17 L265.00 274.39 L265.50 274.58 L266.00 274.76 L266.50 274.92 L267.00 275.07 L267.50 275.20 L268.00 275.32 L268.50 275.43 L269.00 275.53 L269.50 275.62 L270.00 275.71 L270.50 275.78 L271.00 275.85 L271.50 275.92 L272.00 275.98 L272.50 276.03 L273.00 276.08 L273.50 276.13 L274.00 276.17 L274.50 276.21 L275.00 276.25 L275.50 276.28 L276.00 276.32 L276.50 276.35 L277.00 276.38 L277.50 276.41 L278.00 276.43 L278.50 276.46 L279.00 276.48 L279.50 276.51 L280.00 276.53 L280.50 276.55 L281.00 276.57 L281.50 276.59 L282.00 276.61 L282.50 276.63 L283.00 276.64 L283.50 276.66 L284.00 276.67 L284.50 276.69 L285.00 276.70 L285.50 276.72 L286.00 276.73 L286.50 276.74 L287.00 276.76 L287.50 276.77 L288.00 276.78 L288.50 276.79 L289.00 276.80 L289.50 276.81 L290.00 276.82 L290.50 276.83 L291.00 276.84 L291.50 276.85 L292.00 276.86 L292.50 276.87 L293.00 276.88 L293.50 276.89 L294.00 276.89 L294.50 276.90 L295.00 276.91 L295.50 276.91 L296.00 276.92 L296.50 276.93 L297.00 276.93 L297.50 276.94 L298.00 276.95 L298.50 276.95 L299.00 276.96 L299.50 276.96 L300.00 276.97 L300.50 276.98 L301.00 276.98 L301.50 276.99 L302.00 276.99 L302.50 276.99 L303.00 277.00 L303.50 277.00 L304.00 277.01 L304.50 277.01 L305.00 277.02 L305.50 277.02 L306.00 277.02 L306.50 277.03 L307.00 277.03 L307.50 277.04 L308.00 277.04 L308.50 277.04 L309.00 277.05 L309.50 277.05 L310.00 277.05 L310.50 277.06 L311.00 277.06 L311.50 277.06 L312.00 277.07 L312.50 277.07 L313.00 277.07 L313.50 277.07 L314.00 277.08 L314.50 277.08 L315.00 277.08 L315.50 277.08 L316.00 277.09 L316.50 277.09 L317.00 277.09 L317.50 277.09 L318.00 277.10 L318.50 277.10 L319.00 277.10 L319.50 277.10" fill="none" stroke="#000" stroke-width="1.7" stroke-linejoin="round"/>
<path d="M137.50 298.04 L138.00 298.04 L138.50 298.04 L139.00 298.03 L139.50 298.03 L140.00 298.02 L140.50 298.02 L141.00 298.01 L141.50 298.01 L142.00 298.00 L142.50 298.00 L143.00 297.99 L143.50 297.99 L144.00 297.98 L144.50 297.98 L145.00 297.97 L145.50 297.97 L146.00 297.96 L146.50 297.95 L147.00 297.95 L147.50 297.94 L148.00 297.93 L148.50 297.93 L149.00 297.92 L149.50 297.91 L150.00 297.91 L150.50 297.90 L151.00 297.89 L151.50 297.88 L152.00 297.87 L152.50 297.86 L153.00 297.85 L153.50 297.84 L154.00 297.83 L154.50 297.82 L155.00 297.81 L155.50 297.80 L156.00 297.78 L156.50 297.77 L157.00 297.76 L157.50 297.74 L158.00 297.73 L158.50 297.72 L159.00 297.70 L159.50 297.68 L160.00 297.67 L160.50 297.65 L161.00 297.63 L161.50 297.61 L162.00 297.59 L162.50 297.57 L163.00 297.54 L163.50 297.52 L164.00 297.49 L164.50 297.46 L165.00 297.43 L165.50 297.40 L166.00 297.37 L166.50 297.33 L167.00 297.29 L167.50 297.25 L168.00 297.21 L168.50 297.16 L169.00 297.10 L169.50 297.04 L170.00 296.98 L170.50 296.91 L171.00 296.83 L171.50 296.75 L172.00 296.65 L172.50 296.55 L173.00 296.43 L173.50 296.30 L174.00 296.16 L174.50 296.01 L175.00 295.84 L175.50 295.65 L176.00 295.45 L176.50 295.23 L177.00 294.98 L177.50 294.72 L178.00 294.43 L178.50 294.12 L179.00 293.78 L179.50 293.42 L180.00 293.04 L180.50 292.63 L181.00 292.20 L181.50 291.74 L182.00 291.26 L182.50 290.77 L183.00 290.25 L183.50 289.72 L184.00 289.18 L184.50 288.64 L185.00 288.09 L185.50 287.55 L186.00 287.02 L186.50 286.52 L187.00 286.05 L187.50 285.62 L188.00 285.25 L188.50 284.94 L189.00 284.71 L189.50 284.55 L190.00 284.48 L190.50 284.50 L191.00 284.61 L191.50 284.80 L192.00 285.07 L192.50 285.41 L193.00 285.80 L193.50 286.25 L194.00 286.73 L194.50 287.24 L195.00 287.78 L195.50 288.32 L196.00 288.86 L196.50 289.40 L197.00 289.94 L197.50 290.46 L198.00 290.97 L198.50 291.45 L199.00 291.92 L199.50 292.36 L200.00 292.78 L200.50 293.18 L201.00 293.55 L201.50 293.89 L202.00 294.22 L202.50 294.51 L203.00 294.79 L203.50 295.04 L204.00 295.27 L204.50 295.49 L205.00 295.68 L205.50 295.86 L206.00 296.02 L206.50 296.16 L207.00 296.29 L207.50 296.41 L208.00 296.52 L208.50 296.62 L209.00 296.70 L209.50 296.78 L210.00 296.86 L210.50 296.92 L211.00 296.98 L211.50 297.03 L212.00 297.08 L212.50 297.13 L213.00 297.17 L213.50 297.21 L214.00 297.24 L214.50 297.27 L215.00 297.30 L215.50 297.33 L216.00 297.35 L216.50 297.38 L217.00 297.40 L217.50 297.42 L218.00 297.44 L218.50 297.46 L219.00 297.47 L219.50 297.49 L220.00 297.50 L220.50 297.52 L221.00 297.53 L221.50 297.54 L222.00 297.55 L222.50 297.56 L223.00 297.57 L223.50 297.58 L224.00 297.59 L224.50 297.59 L225.00 297.60 L225.50 297.60 L226.00 297.61 L226.50 297.61 L227.00 297.62 L227.50 297.62 L228.00 297.62 L228.50 297.63 L229.00 297.63 L229.50 297.63 L230.00 297.63 L230.50 297.63 L231.00 297.63 L231.50 297.63 L232.00 297.63 L232.50 297.62 L233.00 297.62 L233.50 297.62 L234.00 297.61 L234.50 297.61 L235.00 297.60 L235.50 297.59 L236.00 297.59 L236.50 297.58 L237.00 297.57 L237.50 297.56 L238.00 297.54 L238.50 297.53 L239.00 297.52 L239.50 297.50 L240.00 297.48 L240.50 297.46 L241.00 297.44 L241.50 297.42 L242.00 297.39 L242.50 297.36 L243.00 297.33 L243.50 297.29 L244.00 297.25 L244.50 297.20 L245.00 297.15 L245.50 297.09 L246.00 297.03 L246.50 296.96 L247.00 296.88 L247.50 296.79 L248.00 296.69 L248.50 296.58 L249.00 296.46 L249.50 296.33 L250.00 296.18 L250.50 296.02 L251.00 295.84 L251.50 295.65 L252.00 295.44 L252.50 295.21 L253.00 294.96 L253.50 294.69 L254.00 294.40 L254.50 294.09 L255.00 293.76 L255.50 293.41 L256.00 293.04 L256.50 292.64 L257.00 292.23 L257.50 291.79 L258.00 291.34 L258.50 290.87 L259.00 290.38 L259.50 289.89 L260.00 289.38 L260.50 288.87 L261.00 288.36 L261.50 287.85 L262.00 287.35 L262.50 286.86 L263.00 286.39 L263.50 285.94 L264.00 285.53 L264.50 285.16 L265.00 284.84 L265.50 284.58 L266.00 284.37 L266.50 284.23 L267.00 284.16 L267.50 284.17 L268.00 284.26 L268.50 284.42 L269.00 284.64 L269.50 284.92 L270.00 285.25 L270.50 285.64 L271.00 286.06 L271.50 286.51 L272.00 286.98 L272.50 287.48 L273.00 287.99 L273.50 288.50 L274.00 289.02 L274.50 289.53 L275.00 290.03 L275.50 290.53 L276.00 291.01 L276.50 291.48 L277.00 291.93 L277.50 292.37 L278.00 292.78 L278.50 293.18 L279.00 293.55 L279.50 293.90 L280.00 294.23 L280.50 294.54 L281.00 294.82 L281.50 295.09 L282.00 295.34 L282.50 295.56 L283.00 295.77 L283.50 295.97 L284.00 296.14 L284.50 296.30 L285.00 296.45 L285.50 296.58 L286.00 296.71 L286.50 296.81 L287.00 296.91 L287.50 297.00 L288.00 297.08 L288.50 297.16 L289.00 297.22 L289.50 297.28 L290.00 297.34 L290.50 297.39 L291.00 297.43 L291.50 297.47 L292.00 297.51 L292.50 297.54 L293.00 297.57 L293.50 297.60 L294.00 297.63 L294.50 297.65 L295.00 297.67 L295.50 297.69 L296.00 297.71 L296.50 297.73 L297.00 297.75 L297.50 297.76 L298.00 297.78 L298.50 297.79 L299.00 297.80 L299.50 297.82 L300.00 297.83 L300.50 297.84 L301.00 297.85 L301.50 297.86 L302.00 297.87 L302.50 297.88 L303.00 297.89 L303.50 297.90 L304.00 297.91 L304.50 297.92 L305.00 297.92 L305.50 297.93 L306.00 297.94 L306.50 297.95 L307.00 297.95 L307.50 297.96 L308.00 297.97 L308.50 297.97 L309.00 297.98 L309.50 297.98 L310.00 297.99 L310.50 298.00 L311.00 298.00 L311.50 298.01 L312.00 298.01 L312.50 298.02 L313.00 298.02 L313.50 298.02 L314.00 298.03 L314.50 298.03 L315.00 298.04 L315.50 298.04 L316.00 298.05 L316.50 298.05 L317.00 298.05 L317.50 298.06 L318.00 298.06 L318.50 298.06 L319.00 298.07 L319.50 298.07" fill="none" stroke="#000" stroke-width="1.7" stroke-linejoin="round"/>
<path d="M213.00 319.30 L213.50 319.28 L214.00 319.25 L214.50 319.21 L215.00 319.16 L215.50 319.11 L216.00 319.05 L216.50 318.97 L217.00 318.89 L217.50 318.80 L218.00 318.69 L218.50 318.58 L219.00 318.46 L219.50 318.32 L220.00 318.18 L220.50 318.02 L221.00 317.85 L221.50 317.66 L222.00 317.47 L222.50 317.26 L223.00 317.03 L223.50 316.79 L224.00 316.54 L224.50 316.27 L225.00 315.99 L225.50 315.70 L226.00 315.39 L226.50 315.07 L227.00 314.75 L227.50 314.41 L228.00 314.06 L228.50 313.70 L229.00 313.33 L229.50 312.96 L230.00 312.58 L230.50 312.21 L231.00 311.85 L231.50 311.50 L232.00 311.17 L232.50 310.86 L233.00 310.58 L233.50 310.34 L234.00 310.14 L234.50 309.99 L235.00 309.91 L235.50 309.95 L236.00 310.08 L236.50 310.26 L237.00 310.48 L237.50 310.73 L238.00 311.01 L238.50 311.31 L239.00 311.61 L239.50 311.92 L240.00 312.21 L240.50 312.50 L241.00 312.77 L241.50 313.03 L242.00 313.27 L242.50 313.49 L243.00 313.70 L243.50 313.90 L244.00 314.09 L244.50 314.28 L245.00 314.46 L245.50 314.63 L246.00 314.80 L246.50 314.96 L247.00 315.12 L247.50 315.27 L248.00 315.41 L248.50 315.55 L249.00 315.67 L249.50 315.78 L250.00 315.89 L250.50 315.98 L251.00 316.06 L251.50 316.12 L252.00 316.18 L252.50 316.22 L253.00 316.25 L253.50 316.27 L254.00 316.28 L254.50 316.28 L255.00 316.28 L255.50 316.26 L256.00 316.24 L256.50 316.21 L257.00 316.18 L257.50 316.15 L258.00 316.11 L258.50 316.07 L259.00 316.04 L259.50 316.00 L260.00 315.96 L260.50 315.92 L261.00 315.88 L261.50 315.83 L262.00 315.77 L262.50 315.69 L263.00 315.60 L263.50 315.48 L264.00 315.34 L264.50 315.16 L265.00 314.96 L265.50 314.73 L266.00 314.46 L266.50 314.18 L267.00 313.87 L267.50 313.54 L268.00 313.21 L268.50 312.86 L269.00 312.51 L269.50 312.16 L270.00 311.81 L270.50 311.47 L271.00 311.15 L271.50 310.84 L272.00 310.56 L272.50 310.30 L273.00 310.08 L273.50 309.89 L274.00 309.76 L274.50 309.68 L275.00 309.68 L275.50 309.77 L276.00 309.91 L276.50 310.10 L277.00 310.33 L277.50 310.59 L278.00 310.88 L278.50 311.19 L279.00 311.51 L279.50 311.85 L280.00 312.20 L280.50 312.55 L281.00 312.91 L281.50 313.26 L282.00 313.61 L282.50 313.95 L283.00 314.30 L283.50 314.63 L284.00 314.97 L284.50 315.29 L285.00 315.60 L285.50 315.91 L286.00 316.20 L286.50 316.48 L287.00 316.74 L287.50 316.99 L288.00 317.23 L288.50 317.46 L289.00 317.67 L289.50 317.87 L290.00 318.05 L290.50 318.23 L291.00 318.39 L291.50 318.53 L292.00 318.66 L292.50 318.79 L293.00 318.89 L293.50 318.99 L294.00 319.08 L294.50 319.15 L295.00 319.21 L295.50 319.26 L296.00 319.30" fill="none" stroke="#000" stroke-width="1.7" stroke-linejoin="round"/>
<path d="M250.00 339.80 L250.50 339.79 L251.00 339.79 L251.50 339.78 L252.00 339.77 L252.50 339.76 L253.00 339.75 L253.50 339.73 L254.00 339.72 L254.50 339.70 L255.00 339.69 L255.50 339.67 L256.00 339.65 L256.50 339.63 L257.00 339.61 L257.50 339.59 L258.00 339.57 L258.50 339.55 L259.00 339.53 L259.50 339.51 L260.00 339.48 L260.50 339.46 L261.00 339.43 L261.50 339.41 L262.00 339.38 L262.50 339.34 L263.00 339.31 L263.50 339.26 L264.00 339.21 L264.50 339.15 L265.00 339.08 L265.50 338.98 L266.00 338.87 L266.50 338.73 L267.00 338.56 L267.50 338.35 L268.00 338.11 L268.50 337.82 L269.00 337.49 L269.50 337.11 L270.00 336.68 L270.50 336.21 L271.00 335.70 L271.50 335.15 L272.00 334.57 L272.50 333.97 L273.00 333.34 L273.50 332.71 L274.00 332.08 L274.50 331.46 L275.00 330.86 L275.50 330.27 L276.00 329.72 L276.50 329.20 L277.00 328.73 L277.50 328.29 L278.00 327.90 L278.50 327.55 L279.00 327.24 L279.50 326.98 L280.00 326.75 L280.50 326.57 L281.00 326.41 L281.50 326.29 L282.00 326.20 L282.50 326.13 L283.00 326.08 L283.50 326.05 L284.00 326.03 L284.50 326.02 L285.00 326.03 L285.50 326.04 L286.00 326.06 L286.50 326.09 L287.00 326.15 L287.50 326.22 L288.00 326.32 L288.50 326.45 L289.00 326.61 L289.50 326.81 L290.00 327.05 L290.50 327.32 L291.00 327.64 L291.50 328.00 L292.00 328.41 L292.50 328.86 L293.00 329.34 L293.50 329.87 L294.00 330.43 L294.50 331.02 L295.00 331.63 L295.50 332.26 L296.00 332.89 L296.50 333.52 L297.00 334.14 L297.50 334.74 L298.00 335.31 L298.50 335.85 L299.00 336.35 L299.50 336.81 L300.00 337.22 L300.50 337.59 L301.00 337.91 L301.50 338.18 L302.00 338.42 L302.50 338.61 L303.00 338.77 L303.50 338.90 L304.00 339.01 L304.50 339.09 L305.00 339.16 L305.50 339.21 L306.00 339.25 L306.50 339.28 L307.00 339.31 L307.50 339.33 L308.00 339.35 L308.50 339.37 L309.00 339.38 L309.50 339.40 L310.00 339.41 L310.50 339.42 L311.00 339.43 L311.50 339.44 L312.00 339.45 L312.50 339.46 L313.00 339.47 L313.50 339.48 L314.00 339.49 L314.50 339.49 L315.00 339.50" fill="none" stroke="#000" stroke-width="1.7" stroke-linejoin="round"/>
<line x1="137.5" y1="192.8" x2="319.5" y2="192.8" stroke="#111" stroke-width="1.4"/>
<line x1="319.5" y1="192.8" x2="319.5" y2="340.0" stroke="#888" stroke-width="1.2"/>
<line x1="137.5" y1="192.10000000000002" x2="137.5" y2="340.7" stroke="#000" stroke-width="1.3"/>
<line x1="137.5" y1="340.0" x2="320.2" y2="340.0" stroke="#000" stroke-width="1.5"/>
<line x1="137.80" y1="340.0" x2="137.80" y2="342.8" stroke="#000" stroke-width="1.1"/>
<line x1="155.98" y1="340.0" x2="155.98" y2="344.3" stroke="#000" stroke-width="1.1"/>
<text transform="translate(156.18 353.50) scale(1.1 1)" text-anchor="middle" font-size="9.1" stroke="#000" stroke-width="0.4">0.30</text>
<line x1="174.15" y1="340.0" x2="174.15" y2="342.8" stroke="#000" stroke-width="1.1"/>
<line x1="192.32" y1="340.0" x2="192.32" y2="344.3" stroke="#000" stroke-width="1.1"/>
<text transform="translate(192.52 353.50) scale(1.1 1)" text-anchor="middle" font-size="9.1" stroke="#000" stroke-width="0.4">0.32</text>
<line x1="210.50" y1="340.0" x2="210.50" y2="342.8" stroke="#000" stroke-width="1.1"/>
<line x1="228.68" y1="340.0" x2="228.68" y2="344.3" stroke="#000" stroke-width="1.1"/>
<text transform="translate(228.88 353.50) scale(1.1 1)" text-anchor="middle" font-size="9.1" stroke="#000" stroke-width="0.4">0.34</text>
<line x1="246.85" y1="340.0" x2="246.85" y2="342.8" stroke="#000" stroke-width="1.1"/>
<line x1="265.03" y1="340.0" x2="265.03" y2="344.3" stroke="#000" stroke-width="1.1"/>
<text transform="translate(265.23 353.50) scale(1.1 1)" text-anchor="middle" font-size="9.1" stroke="#000" stroke-width="0.4">0.36</text>
<line x1="283.20" y1="340.0" x2="283.20" y2="342.8" stroke="#000" stroke-width="1.1"/>
<line x1="301.38" y1="340.0" x2="301.38" y2="344.3" stroke="#000" stroke-width="1.1"/>
<text transform="translate(301.58 353.50) scale(1.1 1)" text-anchor="middle" font-size="9.1" stroke="#000" stroke-width="0.4">0.38</text>
<line x1="213.85" y1="189.7" x2="213.85" y2="345.4" stroke="#0000f0" stroke-width="1.7" stroke-dasharray="2.4 2.68"/>
<text transform="translate(230.00 364.10) scale(1.013 1)" text-anchor="middle" font-size="10.5" stroke="#000" stroke-width="0.4">Dimensionless energy</text>
<text transform="translate(132.80 266.40) rotate(-90) scale(1 1.0)" text-anchor="middle" font-size="10.7" stroke="#000" stroke-width="0.45">Lineshape (arb. units)</text>
<text transform="translate(314.20 203.90) scale(1.17 1)" text-anchor="end" font-size="8.7" stroke="#000" stroke-width="0.4">(8,0)</text>
<text transform="translate(335.40 207.00) scale(1.08 1)" text-anchor="middle" font-size="14" font-weight="bold">(c)</text>
</svg>
</body></html>
